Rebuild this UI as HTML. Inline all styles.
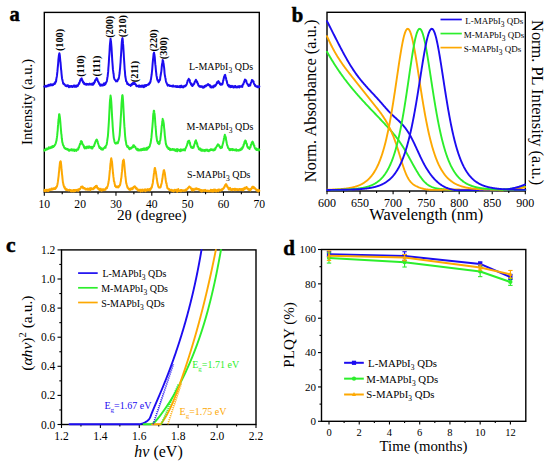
<!DOCTYPE html>
<html><head><meta charset="utf-8"><style>
html,body{margin:0;padding:0;background:#fff;width:550px;height:461px;overflow:hidden}
svg{display:block}
text{font-family:"Liberation Serif", serif}
</style></head><body>
<svg width="550" height="461" viewBox="0 0 550 461">
<rect width="550" height="461" fill="#fff"/>
<rect x="44.3" y="12.4" width="215" height="179.6" fill="none" stroke="#000" stroke-width="1.4"/>
<line x1="44.3" y1="192" x2="44.3" y2="195.8" stroke="#000" stroke-width="1.1"/>
<text x="44.3" y="207.6" font-size="11.6" text-anchor="middle" font-weight="normal" font-style="normal" fill="#000">10</text>
<line x1="62.22" y1="192" x2="62.22" y2="194.2" stroke="#000" stroke-width="1.1"/>
<line x1="80.13" y1="192" x2="80.13" y2="195.8" stroke="#000" stroke-width="1.1"/>
<text x="80.13" y="207.6" font-size="11.6" text-anchor="middle" font-weight="normal" font-style="normal" fill="#000">20</text>
<line x1="98.05" y1="192" x2="98.05" y2="194.2" stroke="#000" stroke-width="1.1"/>
<line x1="115.97" y1="192" x2="115.97" y2="195.8" stroke="#000" stroke-width="1.1"/>
<text x="115.97" y="207.6" font-size="11.6" text-anchor="middle" font-weight="normal" font-style="normal" fill="#000">30</text>
<line x1="133.88" y1="192" x2="133.88" y2="194.2" stroke="#000" stroke-width="1.1"/>
<line x1="151.8" y1="192" x2="151.8" y2="195.8" stroke="#000" stroke-width="1.1"/>
<text x="151.8" y="207.6" font-size="11.6" text-anchor="middle" font-weight="normal" font-style="normal" fill="#000">40</text>
<line x1="169.72" y1="192" x2="169.72" y2="194.2" stroke="#000" stroke-width="1.1"/>
<line x1="187.63" y1="192" x2="187.63" y2="195.8" stroke="#000" stroke-width="1.1"/>
<text x="187.63" y="207.6" font-size="11.6" text-anchor="middle" font-weight="normal" font-style="normal" fill="#000">50</text>
<line x1="205.55" y1="192" x2="205.55" y2="194.2" stroke="#000" stroke-width="1.1"/>
<line x1="223.47" y1="192" x2="223.47" y2="195.8" stroke="#000" stroke-width="1.1"/>
<text x="223.47" y="207.6" font-size="11.6" text-anchor="middle" font-weight="normal" font-style="normal" fill="#000">60</text>
<line x1="241.38" y1="192" x2="241.38" y2="194.2" stroke="#000" stroke-width="1.1"/>
<line x1="259.3" y1="192" x2="259.3" y2="195.8" stroke="#000" stroke-width="1.1"/>
<text x="259.3" y="207.6" font-size="11.6" text-anchor="middle" font-weight="normal" font-style="normal" fill="#000">70</text>
<text x="151.8" y="220.2" font-size="15.3" text-anchor="middle" font-weight="normal" font-style="normal" fill="#000">2θ (degree)</text>
<text x="32.2" y="101.9" font-size="14.7" text-anchor="middle" font-weight="normal" font-style="normal" fill="#000" transform="rotate(-90 32.2 101.9)">Intensity (a.u.)</text>
<text x="9.5" y="20.8" font-size="20.5" text-anchor="start" font-weight="bold" font-style="normal" fill="#000" stroke="#000" stroke-width="0.5">a</text>
<path d="M44.3 86.47 L44.54 86.57 L44.78 86.28 L45.02 85.97 L45.26 86.13 L45.5 85.86 L45.73 86.29 L45.97 86.83 L46.21 85.97 L46.45 85.87 L46.69 86.33 L46.93 86.23 L47.17 86.07 L47.41 85.57 L47.65 85.93 L47.89 86.21 L48.13 85.25 L48.37 85.6 L48.6 84.9 L48.84 85.13 L49.08 84.83 L49.32 85.51 L49.56 84.99 L49.8 85.63 L50.04 85.53 L50.28 85.32 L50.52 84.21 L50.76 85.05 L51 85.21 L51.24 85.22 L51.47 84.41 L51.71 84.82 L51.95 84.52 L52.19 84.52 L52.43 85.29 L52.67 84.36 L52.91 84.62 L53.15 84.93 L53.39 84.16 L53.63 84.26 L53.87 84.22 L54.11 84.05 L54.34 83.29 L54.58 83.66 L54.82 83.97 L55.06 82.34 L55.3 83.01 L55.54 82.17 L55.78 81.19 L56.02 81.57 L56.26 80.01 L56.5 77.89 L56.74 76.98 L56.98 75.44 L57.21 73.06 L57.45 71.13 L57.69 68.24 L57.93 65.84 L58.17 63.37 L58.41 59.67 L58.65 57.58 L58.89 55.27 L59.13 54.25 L59.37 53.27 L59.61 54.11 L59.85 55.73 L60.08 58.35 L60.32 61.04 L60.56 62.74 L60.8 65.83 L61.04 69.23 L61.28 70.61 L61.52 73.61 L61.76 75.82 L62 78.19 L62.24 79.42 L62.48 80.19 L62.71 81.18 L62.95 82.05 L63.19 83.5 L63.43 83.14 L63.67 83.62 L63.91 84.25 L64.15 84.32 L64.39 84.51 L64.63 84.3 L64.87 84.96 L65.11 84.92 L65.35 85.77 L65.58 85.66 L65.82 85.46 L66.06 85.87 L66.3 85.5 L66.54 86.21 L66.78 85.81 L67.02 86.15 L67.26 85.37 L67.5 86.16 L67.74 85.3 L67.98 85.2 L68.22 86.03 L68.45 85.8 L68.69 86.32 L68.93 87.3 L69.17 85.95 L69.41 86.07 L69.65 86.48 L69.89 86.63 L70.13 86.36 L70.37 86.37 L70.61 86.8 L70.85 86.73 L71.09 86.05 L71.32 86.49 L71.56 86.55 L71.8 86.07 L72.04 86.67 L72.28 86.17 L72.52 87 L72.76 86.65 L73 86.6 L73.24 86.29 L73.48 86.49 L73.72 85.64 L73.96 86.01 L74.19 86.67 L74.43 85.53 L74.67 86.85 L74.91 85.66 L75.15 86.75 L75.39 86 L75.63 86.69 L75.87 86.35 L76.11 85.55 L76.35 86.74 L76.59 86.76 L76.83 85.99 L77.06 85.79 L77.3 85.71 L77.54 85.19 L77.78 85.93 L78.02 84.96 L78.26 84.89 L78.5 84.22 L78.74 83.89 L78.98 83.13 L79.22 83.75 L79.46 82.52 L79.69 82.39 L79.93 81.3 L80.17 80.32 L80.41 79.86 L80.65 79.21 L80.89 79.06 L81.13 78.66 L81.37 78.68 L81.61 78.37 L81.85 78.98 L82.09 80.56 L82.33 80.05 L82.56 80.44 L82.8 81.61 L83.04 82.61 L83.28 81.79 L83.52 82.76 L83.76 82.91 L84 82.69 L84.24 84.04 L84.48 83.87 L84.72 84.05 L84.96 83.77 L85.2 84.38 L85.43 83.98 L85.67 84.18 L85.91 83.76 L86.15 83.71 L86.39 84.86 L86.63 84.02 L86.87 84.37 L87.11 84.21 L87.35 84.01 L87.59 83.97 L87.83 84.47 L88.07 84.04 L88.3 84.1 L88.54 84.16 L88.78 84.68 L89.02 84.45 L89.26 84.31 L89.5 83.88 L89.74 83.51 L89.98 84.56 L90.22 84.57 L90.46 84.07 L90.7 84.38 L90.94 84.49 L91.17 84.52 L91.41 84.56 L91.65 83.93 L91.89 84.81 L92.13 83.55 L92.37 84.46 L92.61 84.25 L92.85 84.36 L93.09 84.71 L93.33 84.4 L93.57 83.05 L93.81 82.59 L94.04 83.44 L94.28 82.29 L94.52 82.35 L94.76 82.29 L95 80.68 L95.24 79.95 L95.48 80.48 L95.72 79.86 L95.96 79.27 L96.2 79.04 L96.44 78.44 L96.67 78.13 L96.91 78.93 L97.15 78.92 L97.39 79.11 L97.63 80.65 L97.87 81 L98.11 81.82 L98.35 81.78 L98.59 82.46 L98.83 82.79 L99.07 83.27 L99.31 84.11 L99.54 83.97 L99.78 84.73 L100.02 84.91 L100.26 85.82 L100.5 84.4 L100.74 85.51 L100.98 85.13 L101.22 85.2 L101.46 84.57 L101.7 85.02 L101.94 85.55 L102.18 85.16 L102.41 85.2 L102.65 84.99 L102.89 85.59 L103.13 85 L103.37 83.94 L103.61 84.53 L103.85 83.86 L104.09 83.17 L104.33 84.26 L104.57 84.95 L104.81 84.21 L105.05 83.46 L105.28 83.34 L105.52 84.01 L105.76 83.26 L106 82.82 L106.24 82.31 L106.48 81.77 L106.72 81.4 L106.96 80.38 L107.2 79.11 L107.44 77.15 L107.68 76.15 L107.92 73.55 L108.15 71.91 L108.39 68 L108.63 65.28 L108.87 61.75 L109.11 57.29 L109.35 54.64 L109.59 50.53 L109.83 45.95 L110.07 43.38 L110.31 41.01 L110.55 38.66 L110.78 40.29 L111.02 41.77 L111.26 44.5 L111.5 47.35 L111.74 51.49 L111.98 55.42 L112.22 59.84 L112.46 63.02 L112.7 66.1 L112.94 69.64 L113.18 71.16 L113.42 73.3 L113.65 74.35 L113.89 77.25 L114.13 78.06 L114.37 78.89 L114.61 79.43 L114.85 79.68 L115.09 80.1 L115.33 80.17 L115.57 80.39 L115.81 80.65 L116.05 81.4 L116.29 81.02 L116.52 80.76 L116.76 80.51 L117 80.43 L117.24 81.34 L117.48 80.69 L117.72 80.28 L117.96 79.8 L118.2 79.06 L118.44 78.99 L118.68 78.72 L118.92 77.23 L119.16 76.14 L119.39 74.67 L119.63 73 L119.87 70.03 L120.11 68.03 L120.35 64.73 L120.59 62.1 L120.83 57.61 L121.07 54.25 L121.31 50.65 L121.55 45.96 L121.79 42.43 L122.03 40.19 L122.26 38.64 L122.5 38.07 L122.74 39.99 L122.98 43.15 L123.22 45.5 L123.46 49.44 L123.7 53.22 L123.94 57.98 L124.18 61.24 L124.42 64.96 L124.66 69.31 L124.9 71.2 L125.13 74.55 L125.37 76.81 L125.61 77.94 L125.85 79.46 L126.09 81.21 L126.33 81.14 L126.57 81.67 L126.81 81.9 L127.05 82.99 L127.29 84.02 L127.53 84.1 L127.76 83.51 L128 83.77 L128.24 84.12 L128.48 84.65 L128.72 84.57 L128.96 84.89 L129.2 85.03 L129.44 84.86 L129.68 85.05 L129.92 85.22 L130.16 85.12 L130.4 85.4 L130.63 86 L130.87 85.38 L131.11 85.07 L131.35 84.18 L131.59 84.98 L131.83 83.76 L132.07 83.8 L132.31 84.59 L132.55 84.27 L132.79 83.63 L133.03 82.68 L133.27 83.07 L133.5 82.77 L133.74 83.29 L133.98 84.04 L134.22 83.23 L134.46 82.98 L134.7 83.06 L134.94 83.86 L135.18 84.11 L135.42 83.98 L135.66 84.84 L135.9 84.54 L136.14 85.79 L136.37 85.98 L136.61 86.17 L136.85 85.62 L137.09 86.18 L137.33 85.99 L137.57 85.95 L137.81 86.04 L138.05 85.65 L138.29 85.62 L138.53 86.66 L138.77 86.24 L139.01 86.43 L139.24 86.8 L139.48 85.57 L139.72 86.01 L139.96 86.44 L140.2 86.53 L140.44 86.18 L140.68 86.81 L140.92 86.43 L141.16 85.78 L141.4 85.9 L141.64 86.67 L141.88 86.5 L142.11 85.41 L142.35 86.85 L142.59 86.49 L142.83 86.81 L143.07 86 L143.31 86.01 L143.55 85.61 L143.79 87.22 L144.03 85.96 L144.27 86.72 L144.51 85.67 L144.74 85.99 L144.98 85.12 L145.22 85.64 L145.46 86.2 L145.7 85.14 L145.94 86.12 L146.18 85.72 L146.42 85.03 L146.66 85.19 L146.9 85.13 L147.14 85.22 L147.38 84.9 L147.61 84.66 L147.85 84.78 L148.09 84.32 L148.33 84.06 L148.57 84.45 L148.81 84.68 L149.05 83.38 L149.29 83.8 L149.53 83.19 L149.77 82.66 L150.01 83 L150.25 81.78 L150.48 81.94 L150.72 79.99 L150.96 79.38 L151.2 77.72 L151.44 75.84 L151.68 74.52 L151.92 71.98 L152.16 69.86 L152.4 66.88 L152.64 63.59 L152.88 61.18 L153.12 58.55 L153.35 56.6 L153.59 53.99 L153.83 53.42 L154.07 52.63 L154.31 54.6 L154.55 55.52 L154.79 57.48 L155.03 60.89 L155.27 64.17 L155.51 65.73 L155.75 68.51 L155.99 71.04 L156.22 72.97 L156.46 75.47 L156.7 76.47 L156.94 77.78 L157.18 79.38 L157.42 79.57 L157.66 80.7 L157.9 80.51 L158.14 80.69 L158.38 80.57 L158.62 82.28 L158.86 81.23 L159.09 81.3 L159.33 80.86 L159.57 80.48 L159.81 79.8 L160.05 79.81 L160.29 77.46 L160.53 75.98 L160.77 74.76 L161.01 72.93 L161.25 72 L161.49 70.02 L161.72 67.15 L161.96 64.92 L162.2 63.54 L162.44 62.84 L162.68 60 L162.92 61.24 L163.16 60.98 L163.4 63.06 L163.64 63.75 L163.88 66.1 L164.12 67.72 L164.36 70.15 L164.59 73.34 L164.83 75.07 L165.07 76.31 L165.31 77.68 L165.55 78.58 L165.79 80.41 L166.03 81.54 L166.27 82.3 L166.51 82.94 L166.75 82.99 L166.99 83.88 L167.23 84.23 L167.46 85.1 L167.7 85.59 L167.94 84.88 L168.18 84.76 L168.42 85.22 L168.66 85.1 L168.9 85.15 L169.14 85.55 L169.38 85.2 L169.62 86.03 L169.86 85.79 L170.1 86.02 L170.33 85.89 L170.57 85.71 L170.81 85.66 L171.05 86.04 L171.29 85.95 L171.53 86.35 L171.77 86.28 L172.01 85.71 L172.25 86.39 L172.49 85.8 L172.73 86.16 L172.97 86.33 L173.2 85.56 L173.44 86.56 L173.68 86.62 L173.92 86.5 L174.16 86.41 L174.4 86.45 L174.64 86.2 L174.88 86.54 L175.12 86.43 L175.36 86.73 L175.6 86.16 L175.84 86.83 L176.07 86.8 L176.31 86.68 L176.55 86.56 L176.79 87.01 L177.03 86.02 L177.27 86.99 L177.51 86.9 L177.75 86.92 L177.99 86.97 L178.23 86.51 L178.47 86.69 L178.7 87.1 L178.94 87.01 L179.18 86.91 L179.42 86.13 L179.66 87.06 L179.9 87.34 L180.14 87.26 L180.38 86.91 L180.62 86.1 L180.86 87.22 L181.1 86.72 L181.34 85.64 L181.57 86.94 L181.81 86.09 L182.05 86.16 L182.29 86.44 L182.53 87.28 L182.77 86.52 L183.01 86.79 L183.25 87.42 L183.49 87.32 L183.73 86.52 L183.97 86.41 L184.21 85.89 L184.44 86.06 L184.68 86.47 L184.92 86.34 L185.16 86.05 L185.4 86.26 L185.64 85.22 L185.88 85.25 L186.12 85.25 L186.36 84.76 L186.6 84.5 L186.84 83.65 L187.08 82.72 L187.31 82.38 L187.55 81.11 L187.79 80.18 L188.03 80.6 L188.27 79.85 L188.51 79.72 L188.75 78.74 L188.99 79.47 L189.23 79.7 L189.47 80.07 L189.71 80.02 L189.95 81.51 L190.18 82.7 L190.42 83.06 L190.66 83.17 L190.9 83.92 L191.14 84.69 L191.38 83.44 L191.62 84.89 L191.86 85.38 L192.1 85.55 L192.34 86.05 L192.58 85.76 L192.82 85.28 L193.05 85.1 L193.29 85.07 L193.53 84.15 L193.77 83.99 L194.01 83.96 L194.25 83.92 L194.49 82.42 L194.73 81.9 L194.97 81.46 L195.21 81.48 L195.45 80.47 L195.68 80.91 L195.92 79.77 L196.16 80.28 L196.4 80.6 L196.64 81.51 L196.88 82.18 L197.12 81.62 L197.36 82.48 L197.6 83.62 L197.84 83.7 L198.08 83.79 L198.32 85.36 L198.55 85.47 L198.79 85.77 L199.03 85.58 L199.27 86.46 L199.51 86.05 L199.75 86.78 L199.99 85.97 L200.23 86.08 L200.47 86.62 L200.71 86.26 L200.95 86.92 L201.19 86.77 L201.42 86.26 L201.66 86.73 L201.9 86.55 L202.14 87.14 L202.38 86.45 L202.62 86.54 L202.86 87.29 L203.1 87.75 L203.34 87.64 L203.58 86.76 L203.82 86.81 L204.06 87.38 L204.29 86.6 L204.53 86.17 L204.77 86.6 L205.01 86.68 L205.25 86.01 L205.49 85.52 L205.73 85.48 L205.97 86.27 L206.21 85.45 L206.45 85.52 L206.69 85.47 L206.93 85.44 L207.16 84.8 L207.4 84.98 L207.64 84.21 L207.88 84.36 L208.12 84.04 L208.36 85.07 L208.6 84.66 L208.84 84.51 L209.08 84.88 L209.32 85.15 L209.56 85.78 L209.79 84.95 L210.03 85.39 L210.27 85.85 L210.51 87.3 L210.75 86.71 L210.99 86.33 L211.23 86.78 L211.47 87.45 L211.71 86.46 L211.95 86.43 L212.19 87.16 L212.43 86.85 L212.66 86.93 L212.9 86.39 L213.14 87.47 L213.38 87.34 L213.62 86.79 L213.86 86.8 L214.1 85.51 L214.34 86.63 L214.58 86.15 L214.82 86.3 L215.06 86.24 L215.3 85.58 L215.53 84.73 L215.77 85.36 L216.01 84.53 L216.25 84.33 L216.49 83.8 L216.73 83.47 L216.97 82.14 L217.21 83.29 L217.45 82.46 L217.69 82.54 L217.93 82.74 L218.17 81.81 L218.4 81.08 L218.64 81.71 L218.88 81.88 L219.12 82.57 L219.36 83.22 L219.6 82.67 L219.84 84.08 L220.08 83.56 L220.32 84.63 L220.56 84.64 L220.8 84.66 L221.04 84.81 L221.27 84.55 L221.51 84.38 L221.75 83.66 L221.99 84.06 L222.23 84.45 L222.47 83.94 L222.71 82.96 L222.95 81.89 L223.19 80.37 L223.43 80.35 L223.67 78.66 L223.91 77.64 L224.14 76.61 L224.38 76 L224.62 75.23 L224.86 75.17 L225.1 74.85 L225.34 75.63 L225.58 77.56 L225.82 77.42 L226.06 78.36 L226.3 79.75 L226.54 80.86 L226.77 80.99 L227.01 82.27 L227.25 83.55 L227.49 83.92 L227.73 84.42 L227.97 85.53 L228.21 84.91 L228.45 85.56 L228.69 85.53 L228.93 86.63 L229.17 85.24 L229.41 85.93 L229.64 86.1 L229.88 86.71 L230.12 86.75 L230.36 87.17 L230.6 85.88 L230.84 86.96 L231.08 86.53 L231.32 86.39 L231.56 86.96 L231.8 86.33 L232.04 85.83 L232.28 86.62 L232.51 86.13 L232.75 86.53 L232.99 87.01 L233.23 86.99 L233.47 87.58 L233.71 86.78 L233.95 86.19 L234.19 86.55 L234.43 86.48 L234.67 86.36 L234.91 87.1 L235.15 86.62 L235.38 86.03 L235.62 87.23 L235.86 86.87 L236.1 87.08 L236.34 86.97 L236.58 87.2 L236.82 86.93 L237.06 87.47 L237.3 87.1 L237.54 87.08 L237.78 87.08 L238.02 86.23 L238.25 86.8 L238.49 86.75 L238.73 86.94 L238.97 86.22 L239.21 87.55 L239.45 86.85 L239.69 86.23 L239.93 85.98 L240.17 86.59 L240.41 86.64 L240.65 86.3 L240.89 86.61 L241.12 86.2 L241.36 86.65 L241.6 85.95 L241.84 86.11 L242.08 86.38 L242.32 86.86 L242.56 84.97 L242.8 84.87 L243.04 84.3 L243.28 84.57 L243.52 83.18 L243.75 82.92 L243.99 82.53 L244.23 81.49 L244.47 80.93 L244.71 80.63 L244.95 79.51 L245.19 79.59 L245.43 80.03 L245.67 80.46 L245.91 80.65 L246.15 80.41 L246.39 81.54 L246.62 82.69 L246.86 83.15 L247.1 83.4 L247.34 83.53 L247.58 84.63 L247.82 84.45 L248.06 84.47 L248.3 84.85 L248.54 86 L248.78 85.52 L249.02 85.95 L249.26 85.15 L249.49 85.65 L249.73 84.75 L249.97 84.67 L250.21 85.51 L250.45 84.32 L250.69 83.26 L250.93 82.92 L251.17 82.53 L251.41 82.35 L251.65 81.03 L251.89 79.99 L252.13 80.29 L252.36 80.23 L252.6 80.28 L252.84 81.03 L253.08 80.95 L253.32 81.68 L253.56 81.4 L253.8 82.89 L254.04 84.05 L254.28 84.03 L254.52 84.32 L254.76 84.75 L255 85.9 L255.23 85.02 L255.47 85.69 L255.71 86.18 L255.95 86.51 L256.19 86.13 L256.43 86.59 L256.67 86.43 L256.91 86.69 L257.15 86.64 L257.39 86.24 L257.63 86.79 L257.87 87.23 L258.1 86.43 L258.34 86.79 L258.58 87.22 L258.82 86.46 L259.06 87.04 L259.3 86.5" fill="none" stroke="#1c0cf0" stroke-width="2.0" stroke-linejoin="round" stroke-linecap="round"/>
<path d="M44.3 150.23 L44.54 150.69 L44.78 150.49 L45.02 149.41 L45.26 149.77 L45.5 149.42 L45.73 149.34 L45.97 149.91 L46.21 148.55 L46.45 149.54 L46.69 148.96 L46.93 149.54 L47.17 148.91 L47.41 148.44 L47.65 148.78 L47.89 148.9 L48.13 148.5 L48.37 148.62 L48.6 148.08 L48.84 147.27 L49.08 148.55 L49.32 148.37 L49.56 148.03 L49.8 147.91 L50.04 148.26 L50.28 147.49 L50.52 147.29 L50.76 147.43 L51 147.96 L51.24 146.71 L51.47 147.77 L51.71 146.85 L51.95 146.55 L52.19 147.51 L52.43 146.79 L52.67 146.14 L52.91 146.45 L53.15 146.92 L53.39 146.91 L53.63 146.04 L53.87 146.26 L54.11 146.23 L54.34 145.42 L54.58 145.64 L54.82 145.19 L55.06 144.62 L55.3 144.22 L55.54 143.94 L55.78 143.26 L56.02 142.15 L56.26 141.18 L56.5 140.6 L56.74 138.65 L56.98 137.13 L57.21 135.15 L57.45 132.48 L57.69 130.59 L57.93 126.37 L58.17 124.19 L58.41 120.84 L58.65 119.25 L58.89 117.11 L59.13 114.15 L59.37 114.21 L59.61 115.57 L59.85 117.16 L60.08 119.39 L60.32 121.75 L60.56 124.95 L60.8 128.04 L61.04 130.62 L61.28 133.83 L61.52 134.8 L61.76 138.27 L62 139.39 L62.24 141.87 L62.48 142.65 L62.71 143.44 L62.95 144.89 L63.19 145.03 L63.43 145.61 L63.67 145.79 L63.91 146.87 L64.15 147.43 L64.39 147.95 L64.63 147.66 L64.87 148.4 L65.11 148.13 L65.35 148.25 L65.58 148.7 L65.82 149.06 L66.06 148.56 L66.3 148.73 L66.54 148.88 L66.78 149.1 L67.02 148.76 L67.26 149.72 L67.5 149.16 L67.74 149.63 L67.98 149.13 L68.22 149.74 L68.45 149.82 L68.69 149.52 L68.93 150.68 L69.17 150 L69.41 150.69 L69.65 150.37 L69.89 149.69 L70.13 149.86 L70.37 150.27 L70.61 150.14 L70.85 150.17 L71.09 150.05 L71.32 149.39 L71.56 150.13 L71.8 149.26 L72.04 150.45 L72.28 149.97 L72.52 149.99 L72.76 150.23 L73 150.46 L73.24 149.7 L73.48 149.57 L73.72 149.88 L73.96 149.44 L74.19 149.92 L74.43 151.06 L74.67 149.86 L74.91 150.61 L75.15 149.68 L75.39 150.41 L75.63 150.1 L75.87 150.18 L76.11 150.41 L76.35 150.89 L76.59 150.11 L76.83 149.99 L77.06 149.39 L77.3 149.95 L77.54 149.41 L77.78 149.68 L78.02 149.01 L78.26 149.49 L78.5 147.42 L78.74 147.71 L78.98 147.69 L79.22 146.52 L79.46 145.62 L79.69 145.11 L79.93 143.82 L80.17 143.71 L80.41 144 L80.65 142.77 L80.89 141.27 L81.13 141.11 L81.37 141.29 L81.61 142.14 L81.85 141.73 L82.09 142.35 L82.33 143.69 L82.56 144.35 L82.8 144.43 L83.04 144.7 L83.28 145.05 L83.52 145.9 L83.76 145.61 L84 147.27 L84.24 146.9 L84.48 147.59 L84.72 148.35 L84.96 148.12 L85.2 147.13 L85.43 148.07 L85.67 148.2 L85.91 147.33 L86.15 147.22 L86.39 147.57 L86.63 146.87 L86.87 148.21 L87.11 146.43 L87.35 146.98 L87.59 147.33 L87.83 147.31 L88.07 147.46 L88.3 147.49 L88.54 147.25 L88.78 147.84 L89.02 146.35 L89.26 147.31 L89.5 146.98 L89.74 147.36 L89.98 147.4 L90.22 146.9 L90.46 147.03 L90.7 147.69 L90.94 147.5 L91.17 147.04 L91.41 148.28 L91.65 148.4 L91.89 146.7 L92.13 147.47 L92.37 148.43 L92.61 147.6 L92.85 147.25 L93.09 146.93 L93.33 146.59 L93.57 146.5 L93.81 146.03 L94.04 146.21 L94.28 145.21 L94.52 144.62 L94.76 143.62 L95 143.41 L95.24 142.25 L95.48 141.77 L95.72 141.54 L95.96 140.55 L96.2 140.08 L96.44 139.71 L96.67 139.55 L96.91 139.73 L97.15 140.18 L97.39 141.38 L97.63 141.39 L97.87 143.37 L98.11 143.68 L98.35 144.18 L98.59 145.08 L98.83 145.7 L99.07 146.69 L99.31 146.81 L99.54 148.08 L99.78 147.56 L100.02 147.17 L100.26 148.07 L100.5 147.66 L100.74 148.66 L100.98 149.23 L101.22 149.1 L101.46 148.23 L101.7 148.49 L101.94 149.62 L102.18 148.93 L102.41 148.75 L102.65 149.17 L102.89 149.73 L103.13 149.12 L103.37 148.51 L103.61 148.5 L103.85 148.49 L104.09 147.8 L104.33 147.44 L104.57 147.76 L104.81 147.11 L105.05 147.28 L105.28 147.08 L105.52 147.78 L105.76 145.97 L106 145.86 L106.24 145.29 L106.48 144.9 L106.72 144.34 L106.96 142.61 L107.2 141.16 L107.44 139.2 L107.68 137.56 L107.92 135.86 L108.15 132.83 L108.39 129.1 L108.63 125.68 L108.87 121.74 L109.11 117.52 L109.35 112.42 L109.59 108 L109.83 103.03 L110.07 99.75 L110.31 98.47 L110.55 95.61 L110.78 96.83 L111.02 98.93 L111.26 101.71 L111.5 105.38 L111.74 110.03 L111.98 114.51 L112.22 118.82 L112.46 122.09 L112.7 126.57 L112.94 129.52 L113.18 132.47 L113.42 135.18 L113.65 137.31 L113.89 138.99 L114.13 139.6 L114.37 141.21 L114.61 142.07 L114.85 142.62 L115.09 143.16 L115.33 142.79 L115.57 143.01 L115.81 143.62 L116.05 142.75 L116.29 143.52 L116.52 143.21 L116.76 143.26 L117 142.58 L117.24 142.85 L117.48 143.07 L117.72 143.23 L117.96 142.95 L118.2 142.01 L118.44 141.36 L118.68 140.28 L118.92 139.8 L119.16 138.18 L119.39 136.89 L119.63 135.35 L119.87 132.04 L120.11 128.41 L120.35 125.27 L120.59 121.12 L120.83 116.98 L121.07 113.6 L121.31 108.54 L121.55 103.37 L121.79 100.48 L122.03 97.81 L122.26 95.41 L122.5 95.14 L122.74 96.73 L122.98 99.82 L123.22 103.8 L123.46 108.5 L123.7 113.25 L123.94 117.95 L124.18 122.54 L124.42 126.38 L124.66 129.13 L124.9 133.02 L125.13 136.01 L125.37 138.04 L125.61 140.56 L125.85 141.57 L126.09 142.58 L126.33 144.67 L126.57 145.13 L126.81 145.58 L127.05 146.43 L127.29 146.92 L127.53 146.95 L127.76 145.99 L128 147.04 L128.24 147.36 L128.48 147.31 L128.72 148.01 L128.96 148.6 L129.2 147.96 L129.44 147.77 L129.68 149.27 L129.92 148.21 L130.16 147.88 L130.4 148.54 L130.63 148.6 L130.87 148.02 L131.11 148.58 L131.35 147.85 L131.59 147.46 L131.83 147.71 L132.07 147.7 L132.31 146.75 L132.55 146.84 L132.79 146.29 L133.03 147.27 L133.27 145.38 L133.5 146.11 L133.74 145.35 L133.98 145.33 L134.22 145.86 L134.46 146.2 L134.7 146.71 L134.94 146.68 L135.18 146.67 L135.42 147.1 L135.66 147.96 L135.9 148.35 L136.14 149.04 L136.37 148.87 L136.61 149.4 L136.85 149.8 L137.09 149.35 L137.33 148.74 L137.57 148.98 L137.81 148.94 L138.05 150.37 L138.29 149.32 L138.53 150.29 L138.77 150.02 L139.01 150.55 L139.24 150.24 L139.48 149.75 L139.72 149.71 L139.96 149.84 L140.2 149.88 L140.44 149.56 L140.68 149.77 L140.92 150.5 L141.16 149 L141.4 149.86 L141.64 149.32 L141.88 149.79 L142.11 150.06 L142.35 149.63 L142.59 149.97 L142.83 148.88 L143.07 150.06 L143.31 149.25 L143.55 149.76 L143.79 149.52 L144.03 148.23 L144.27 149 L144.51 149.39 L144.74 149.93 L144.98 149.3 L145.22 149.22 L145.46 148.4 L145.7 149.61 L145.94 149.7 L146.18 148.81 L146.42 148.61 L146.66 147.88 L146.9 148.9 L147.14 149.61 L147.38 148.6 L147.61 148.71 L147.85 148.24 L148.09 147.39 L148.33 148.26 L148.57 146.91 L148.81 147.14 L149.05 147.09 L149.29 147.05 L149.53 146.46 L149.77 145.99 L150.01 144.9 L150.25 143.95 L150.48 143.67 L150.72 142.23 L150.96 140.62 L151.2 139.01 L151.44 137.42 L151.68 134.54 L151.92 132.17 L152.16 129.14 L152.4 126.79 L152.64 123.57 L152.88 120.94 L153.12 116.18 L153.35 113.77 L153.59 112.4 L153.83 110.76 L154.07 110.67 L154.31 112.64 L154.55 113.71 L154.79 116.02 L155.03 119.03 L155.27 123.02 L155.51 126.22 L155.75 128.5 L155.99 131.46 L156.22 134.62 L156.46 136.77 L156.7 138.02 L156.94 140.08 L157.18 141.24 L157.42 141.11 L157.66 142.47 L157.9 143.31 L158.14 143.2 L158.38 142.68 L158.62 143.57 L158.86 143.94 L159.09 144.08 L159.33 142 L159.57 143.59 L159.81 141.14 L160.05 141.08 L160.29 139.97 L160.53 138.35 L160.77 136.2 L161.01 133.58 L161.25 132.12 L161.49 129.09 L161.72 125.77 L161.96 125.72 L162.2 122.54 L162.44 121.24 L162.68 118.87 L162.92 119.62 L163.16 120.23 L163.4 121.58 L163.64 122.86 L163.88 124.74 L164.12 127.82 L164.36 129.57 L164.59 132.36 L164.83 135.57 L165.07 137.25 L165.31 139.53 L165.55 141.21 L165.79 143.52 L166.03 144.4 L166.27 144.75 L166.51 146.09 L166.75 145.82 L166.99 146.53 L167.23 147.5 L167.46 146.86 L167.7 147.57 L167.94 147.34 L168.18 148.18 L168.42 149.03 L168.66 148.11 L168.9 148.69 L169.14 148.31 L169.38 148.31 L169.62 148.37 L169.86 149.68 L170.1 150.17 L170.33 149.41 L170.57 148.94 L170.81 149.65 L171.05 149.25 L171.29 149.82 L171.53 149.65 L171.77 149.7 L172.01 149.9 L172.25 149.41 L172.49 149.53 L172.73 148.98 L172.97 149.59 L173.2 149.19 L173.44 149.8 L173.68 149.46 L173.92 149.97 L174.16 150.16 L174.4 149.34 L174.64 149.63 L174.88 149.6 L175.12 150.38 L175.36 150.83 L175.6 150.46 L175.84 149.94 L176.07 150.77 L176.31 149.44 L176.55 150.81 L176.79 149.85 L177.03 148.91 L177.27 151.36 L177.51 150.88 L177.75 149.72 L177.99 150.26 L178.23 150.09 L178.47 150.24 L178.7 149.53 L178.94 149.89 L179.18 150.41 L179.42 150.3 L179.66 150.73 L179.9 150.22 L180.14 151.24 L180.38 149.86 L180.62 150.29 L180.86 149.3 L181.1 149.59 L181.34 150.73 L181.57 149.7 L181.81 150.34 L182.05 150.06 L182.29 149.59 L182.53 149.88 L182.77 149.78 L183.01 149.76 L183.25 150.27 L183.49 150.18 L183.73 149.57 L183.97 149.36 L184.21 149.81 L184.44 149.53 L184.68 149.91 L184.92 150.48 L185.16 149.46 L185.4 148.8 L185.64 148.42 L185.88 147.71 L186.12 147.22 L186.36 146.61 L186.6 146.23 L186.84 145.48 L187.08 145.2 L187.31 143.83 L187.55 143.03 L187.79 141.72 L188.03 142.23 L188.27 141.1 L188.51 141.28 L188.75 140.72 L188.99 141.21 L189.23 140.88 L189.47 141.96 L189.71 143.63 L189.95 142.7 L190.18 144.62 L190.42 145.65 L190.66 145.81 L190.9 146.62 L191.14 147.4 L191.38 146.97 L191.62 147.81 L191.86 147.47 L192.1 147.7 L192.34 147.77 L192.58 147.94 L192.82 147.92 L193.05 147.82 L193.29 146.61 L193.53 147.73 L193.77 146.81 L194.01 145.99 L194.25 144.78 L194.49 144.15 L194.73 143.66 L194.97 142.84 L195.21 141.19 L195.45 141.77 L195.68 142.45 L195.92 140.19 L196.16 141.71 L196.4 141.88 L196.64 142.3 L196.88 143.74 L197.12 143.38 L197.36 144.82 L197.6 146.21 L197.84 146.17 L198.08 146.73 L198.32 147.55 L198.55 147.79 L198.79 149.12 L199.03 148.33 L199.27 149.43 L199.51 148.67 L199.75 149.74 L199.99 149.52 L200.23 148.49 L200.47 149.77 L200.71 149.35 L200.95 149.7 L201.19 150.67 L201.42 149.48 L201.66 149.55 L201.9 150.73 L202.14 150.15 L202.38 150.83 L202.62 150.29 L202.86 149.75 L203.1 150.15 L203.34 150.76 L203.58 150.65 L203.82 150.22 L204.06 150.26 L204.29 150.19 L204.53 149.99 L204.77 151.15 L205.01 150.27 L205.25 149.75 L205.49 150.06 L205.73 150.62 L205.97 150.59 L206.21 150.23 L206.45 149.99 L206.69 150.31 L206.93 149.52 L207.16 149.7 L207.4 150.67 L207.64 150.08 L207.88 150.47 L208.12 150.86 L208.36 150.59 L208.6 150.3 L208.84 151.27 L209.08 150.59 L209.32 150.11 L209.56 150.61 L209.79 150.45 L210.03 149.86 L210.27 150.28 L210.51 150.16 L210.75 149.32 L210.99 150.13 L211.23 150.07 L211.47 149.98 L211.71 149.41 L211.95 149.99 L212.19 150.11 L212.43 150.15 L212.66 149.56 L212.9 150.34 L213.14 149.45 L213.38 149.87 L213.62 150.52 L213.86 149.53 L214.1 149.53 L214.34 150.17 L214.58 149.37 L214.82 149.25 L215.06 149.3 L215.3 149.45 L215.53 147.67 L215.77 147.98 L216.01 147.52 L216.25 147.06 L216.49 146.7 L216.73 146.21 L216.97 146.24 L217.21 145.2 L217.45 145.23 L217.69 145.02 L217.93 144.28 L218.17 144.61 L218.4 145.4 L218.64 145.03 L218.88 144.93 L219.12 145.59 L219.36 145.62 L219.6 146.58 L219.84 147.23 L220.08 146.79 L220.32 147.34 L220.56 148.13 L220.8 147.5 L221.04 147.83 L221.27 147.18 L221.51 147.08 L221.75 146.9 L221.99 147.66 L222.23 145.92 L222.47 145.13 L222.71 144.24 L222.95 143.41 L223.19 142.65 L223.43 141.21 L223.67 140.76 L223.91 138.66 L224.14 138.03 L224.38 136.52 L224.62 135.98 L224.86 134.78 L225.1 135.54 L225.34 136.14 L225.58 136.99 L225.82 137.28 L226.06 139.93 L226.3 140.67 L226.54 141.94 L226.77 143.22 L227.01 144.33 L227.25 145.58 L227.49 145.66 L227.73 146.52 L227.97 147.66 L228.21 148.07 L228.45 148.22 L228.69 148.44 L228.93 148.57 L229.17 149.11 L229.41 149.82 L229.64 148.94 L229.88 150.2 L230.12 149.97 L230.36 149.46 L230.6 150.07 L230.84 149.11 L231.08 149.04 L231.32 149.27 L231.56 149.7 L231.8 149.77 L232.04 149.71 L232.28 150.01 L232.51 149.03 L232.75 150.23 L232.99 149.39 L233.23 149.74 L233.47 149.87 L233.71 149.54 L233.95 149.46 L234.19 149.63 L234.43 150.09 L234.67 150.36 L234.91 150.35 L235.15 149.66 L235.38 149.75 L235.62 149.69 L235.86 150.31 L236.1 149.19 L236.34 150.66 L236.58 149.88 L236.82 149.74 L237.06 150.24 L237.3 150.54 L237.54 150.22 L237.78 150.53 L238.02 150.11 L238.25 150.59 L238.49 150.58 L238.73 149.95 L238.97 150.62 L239.21 150.02 L239.45 149.96 L239.69 149.47 L239.93 149.72 L240.17 150.15 L240.41 149.16 L240.65 149.98 L240.89 149.76 L241.12 149.62 L241.36 148.37 L241.6 149.15 L241.84 149.29 L242.08 148.39 L242.32 148.45 L242.56 146.95 L242.8 147.86 L243.04 146.71 L243.28 146.76 L243.52 144.83 L243.75 145.19 L243.99 143.96 L244.23 143.59 L244.47 142.02 L244.71 141.46 L244.95 142.22 L245.19 140.53 L245.43 140.55 L245.67 140.99 L245.91 141.13 L246.15 142.77 L246.39 143.77 L246.62 143.47 L246.86 143.8 L247.1 145.84 L247.34 146.49 L247.58 146.95 L247.82 147.6 L248.06 147.1 L248.3 147.72 L248.54 147.38 L248.78 147.49 L249.02 148.6 L249.26 147.8 L249.49 148.98 L249.73 147.75 L249.97 147.11 L250.21 147.35 L250.45 147.31 L250.69 146.14 L250.93 144.74 L251.17 144.78 L251.41 144.55 L251.65 143.05 L251.89 142.36 L252.13 142.73 L252.36 142.11 L252.6 141.56 L252.84 142.14 L253.08 142.42 L253.32 143.49 L253.56 144.1 L253.8 145.29 L254.04 145.82 L254.28 145.48 L254.52 146.99 L254.76 147.78 L255 148.07 L255.23 148.74 L255.47 148.38 L255.71 148.49 L255.95 149.57 L256.19 148.86 L256.43 148.52 L256.67 150.07 L256.91 149.38 L257.15 149.64 L257.39 149.21 L257.63 149.3 L257.87 149.42 L258.1 149.81 L258.34 150.18 L258.58 149 L258.82 150.4 L259.06 149.55 L259.3 149.63" fill="none" stroke="#2cee2c" stroke-width="2.0" stroke-linejoin="round" stroke-linecap="round"/>
<path d="M44.3 190.76 L44.54 190.4 L44.78 189.72 L45.02 191.22 L45.26 189.98 L45.5 190.45 L45.73 190.41 L45.97 190.92 L46.21 190.06 L46.45 190.69 L46.69 189.87 L46.93 190.68 L47.17 189.8 L47.41 189.95 L47.65 190.93 L47.89 190.19 L48.13 190.06 L48.37 190.99 L48.6 190.11 L48.84 189.54 L49.08 190.2 L49.32 189.3 L49.56 190.3 L49.8 190.3 L50.04 189.45 L50.28 189.39 L50.52 189.71 L50.76 189.59 L51 189.1 L51.24 189.75 L51.47 188.53 L51.71 189.21 L51.95 189.17 L52.19 189.18 L52.43 189.39 L52.67 188.64 L52.91 189.4 L53.15 188.99 L53.39 188.72 L53.63 188.33 L53.87 188.34 L54.11 188.95 L54.34 188.27 L54.58 188.63 L54.82 188.97 L55.06 188.84 L55.3 188.93 L55.54 187.92 L55.78 187.36 L56.02 188.05 L56.26 187.41 L56.5 187.37 L56.74 186.36 L56.98 186.25 L57.21 185.29 L57.45 184.23 L57.69 182.92 L57.93 181.42 L58.17 179.63 L58.41 177.67 L58.65 175.82 L58.89 172.75 L59.13 171.26 L59.37 167.91 L59.61 166.03 L59.85 163.49 L60.08 161.92 L60.32 162.18 L60.56 161.22 L60.8 161.71 L61.04 163.6 L61.28 165.93 L61.52 169.5 L61.76 171.19 L62 174.05 L62.24 175.58 L62.48 178.39 L62.71 180.5 L62.95 182.71 L63.19 183.04 L63.43 184.85 L63.67 185.71 L63.91 185.92 L64.15 187.02 L64.39 187.43 L64.63 186.92 L64.87 188.57 L65.11 188.81 L65.35 188.59 L65.58 188.37 L65.82 189.79 L66.06 189.38 L66.3 189.83 L66.54 190.11 L66.78 189.34 L67.02 190.02 L67.26 189.62 L67.5 189.77 L67.74 189.82 L67.98 189.92 L68.22 190.47 L68.45 190.07 L68.69 189.99 L68.93 189.98 L69.17 190.29 L69.41 189.77 L69.65 189.98 L69.89 190.21 L70.13 190 L70.37 190.23 L70.61 190.03 L70.85 191.23 L71.09 190.94 L71.32 190.57 L71.56 190.36 L71.8 191.38 L72.04 190.55 L72.28 190.38 L72.52 190.56 L72.76 190.57 L73 191.08 L73.24 190.44 L73.48 191.4 L73.72 190.06 L73.96 190.78 L74.19 190.01 L74.43 191.28 L74.67 190.31 L74.91 190.43 L75.15 190.87 L75.39 191.01 L75.63 189.94 L75.87 190.28 L76.11 189.79 L76.35 190.47 L76.59 190.34 L76.83 190.21 L77.06 190.03 L77.3 190.13 L77.54 189.93 L77.78 190.46 L78.02 190.85 L78.26 189.22 L78.5 189.95 L78.74 189.7 L78.98 189.98 L79.22 189.16 L79.46 189.33 L79.69 188.71 L79.93 189.24 L80.17 188.69 L80.41 188.27 L80.65 188.19 L80.89 187.59 L81.13 186.7 L81.37 187.4 L81.61 187.06 L81.85 186.75 L82.09 187.24 L82.33 187.42 L82.56 186.53 L82.8 186.88 L83.04 188.17 L83.28 188.36 L83.52 187.63 L83.76 187.66 L84 188.11 L84.24 188.35 L84.48 188 L84.72 188.85 L84.96 188.35 L85.2 188.45 L85.43 189.45 L85.67 188.76 L85.91 189.05 L86.15 189.37 L86.39 189.45 L86.63 188.93 L86.87 189.09 L87.11 188.69 L87.35 189.83 L87.59 189.32 L87.83 188.52 L88.07 189.01 L88.3 189.32 L88.54 189.21 L88.78 189.81 L89.02 189.6 L89.26 188.74 L89.5 188.94 L89.74 188.4 L89.98 189.1 L90.22 189.06 L90.46 190.21 L90.7 189.05 L90.94 188.07 L91.17 188.71 L91.41 189.07 L91.65 188.46 L91.89 188.63 L92.13 188.85 L92.37 189.15 L92.61 188.88 L92.85 188.51 L93.09 189.19 L93.33 188.5 L93.57 188.4 L93.81 187.85 L94.04 187.93 L94.28 188.36 L94.52 187.09 L94.76 187.52 L95 187.59 L95.24 186.81 L95.48 186.82 L95.72 185.99 L95.96 186.94 L96.2 186.79 L96.44 186.46 L96.67 185.72 L96.91 186.28 L97.15 187.49 L97.39 188.16 L97.63 187.86 L97.87 188.62 L98.11 188.1 L98.35 188.57 L98.59 188.9 L98.83 189.31 L99.07 188.61 L99.31 189.87 L99.54 190.16 L99.78 189.14 L100.02 189.12 L100.26 189.94 L100.5 189.52 L100.74 188.78 L100.98 190.22 L101.22 189.93 L101.46 189.64 L101.7 190.8 L101.94 189.89 L102.18 189.47 L102.41 189.83 L102.65 189.29 L102.89 189.37 L103.13 189.85 L103.37 189.38 L103.61 189.37 L103.85 190.27 L104.09 189.84 L104.33 189.74 L104.57 189.54 L104.81 189.43 L105.05 189.77 L105.28 188.99 L105.52 189.71 L105.76 188.31 L106 188.46 L106.24 187.77 L106.48 188.02 L106.72 188.14 L106.96 188.24 L107.2 186.89 L107.44 186.7 L107.68 185.93 L107.92 184.99 L108.15 183.85 L108.39 183.25 L108.63 181.05 L108.87 180.23 L109.11 178.26 L109.35 175.77 L109.59 173.18 L109.83 170.39 L110.07 169.14 L110.31 164.99 L110.55 163.78 L110.78 161.24 L111.02 159.33 L111.26 158.3 L111.5 159.53 L111.74 160.95 L111.98 161.56 L112.22 164.15 L112.46 167.32 L112.7 169.65 L112.94 172.98 L113.18 174.25 L113.42 176.95 L113.65 178.08 L113.89 181.26 L114.13 181.4 L114.37 181.9 L114.61 183.78 L114.85 184.52 L115.09 186.03 L115.33 185.47 L115.57 185.97 L115.81 186.51 L116.05 187.17 L116.29 186.58 L116.52 187.19 L116.76 187.04 L117 186.73 L117.24 186.94 L117.48 186.93 L117.72 186.5 L117.96 187.44 L118.2 186.22 L118.44 187.29 L118.68 187.07 L118.92 186.44 L119.16 185.92 L119.39 185.86 L119.63 185.78 L119.87 185.39 L120.11 184.51 L120.35 183.98 L120.59 182.22 L120.83 181.28 L121.07 178.91 L121.31 178.14 L121.55 175.78 L121.79 173.2 L122.03 171.4 L122.26 168.59 L122.5 164.44 L122.74 163.35 L122.98 160.71 L123.22 160.5 L123.46 160.62 L123.7 159.64 L123.94 161.13 L124.18 162.9 L124.42 165.54 L124.66 168.3 L124.9 171.29 L125.13 172.89 L125.37 176.5 L125.61 177.61 L125.85 180.13 L126.09 182.24 L126.33 183.49 L126.57 183.95 L126.81 185.04 L127.05 185.94 L127.29 186.77 L127.53 187.81 L127.76 187.12 L128 188.23 L128.24 188.56 L128.48 188.74 L128.72 188.88 L128.96 189.5 L129.2 189.15 L129.44 189.42 L129.68 189.38 L129.92 190 L130.16 188.39 L130.4 189.87 L130.63 189.19 L130.87 189.19 L131.11 188.86 L131.35 188.42 L131.59 189.02 L131.83 188.78 L132.07 189.19 L132.31 188.14 L132.55 189.25 L132.79 188.5 L133.03 188.01 L133.27 187.53 L133.5 187.22 L133.74 186.79 L133.98 186.83 L134.22 186.9 L134.46 186.73 L134.7 186.18 L134.94 186.81 L135.18 186.72 L135.42 187.46 L135.66 188.52 L135.9 188.28 L136.14 188.17 L136.37 187.88 L136.61 188.25 L136.85 188.37 L137.09 189.67 L137.33 189.19 L137.57 189.71 L137.81 189.53 L138.05 189.96 L138.29 190.63 L138.53 189.76 L138.77 189.96 L139.01 189.79 L139.24 190.58 L139.48 189.76 L139.72 189.73 L139.96 189.63 L140.2 189.64 L140.44 190.5 L140.68 191.45 L140.92 189.86 L141.16 190.74 L141.4 190.43 L141.64 189.82 L141.88 190.2 L142.11 190.22 L142.35 190.01 L142.59 191.19 L142.83 189.46 L143.07 190.49 L143.31 190.46 L143.55 190.05 L143.79 190.37 L144.03 190.69 L144.27 190.36 L144.51 190.47 L144.74 190.58 L144.98 189.34 L145.22 190.91 L145.46 191.25 L145.7 190.65 L145.94 190.65 L146.18 189.54 L146.42 190.1 L146.66 189.76 L146.9 189.84 L147.14 190.51 L147.38 189.68 L147.61 189.95 L147.85 189.11 L148.09 189.85 L148.33 189.91 L148.57 189.5 L148.81 189.44 L149.05 190.54 L149.29 189.07 L149.53 189.06 L149.77 189.06 L150.01 189.84 L150.25 190.1 L150.48 189.13 L150.72 188.43 L150.96 188.28 L151.2 188.6 L151.44 187.27 L151.68 187.78 L151.92 187.08 L152.16 185.62 L152.4 184.86 L152.64 183.7 L152.88 182.65 L153.12 179.89 L153.35 179.13 L153.59 176.54 L153.83 174.42 L154.07 172.9 L154.31 171.01 L154.55 169.23 L154.79 168.02 L155.03 167.98 L155.27 169.37 L155.51 170.52 L155.75 171.33 L155.99 173.29 L156.22 174.39 L156.46 176.5 L156.7 178.5 L156.94 179.6 L157.18 181.18 L157.42 183.01 L157.66 183.97 L157.9 184.59 L158.14 186.02 L158.38 186.33 L158.62 187.37 L158.86 187.24 L159.09 187.33 L159.33 187.65 L159.57 187.56 L159.81 187.28 L160.05 187.26 L160.29 187.54 L160.53 187.14 L160.77 186.95 L161.01 184.99 L161.25 184.79 L161.49 183.82 L161.72 182.94 L161.96 181.33 L162.2 179.82 L162.44 178.77 L162.68 176.78 L162.92 174.45 L163.16 173.93 L163.4 172.37 L163.64 170.62 L163.88 170.72 L164.12 170.07 L164.36 171.55 L164.59 172.08 L164.83 173.31 L165.07 175.2 L165.31 176.81 L165.55 179 L165.79 180.66 L166.03 182.13 L166.27 183.22 L166.51 183.01 L166.75 185.71 L166.99 185.66 L167.23 187.31 L167.46 188.27 L167.7 188.34 L167.94 188.4 L168.18 188.77 L168.42 189.02 L168.66 189.02 L168.9 189.15 L169.14 189.12 L169.38 190.18 L169.62 189.72 L169.86 190.24 L170.1 189.76 L170.33 189.97 L170.57 189.91 L170.81 190.25 L171.05 190.46 L171.29 190.23 L171.53 189.86 L171.77 189.84 L172.01 190.97 L172.25 190.13 L172.49 190.15 L172.73 190.97 L172.97 190.82 L173.2 190.59 L173.44 190.19 L173.68 191.45 L173.92 190.58 L174.16 190.67 L174.4 190.36 L174.64 189.82 L174.88 189.86 L175.12 190.66 L175.36 190.66 L175.6 190.39 L175.84 189.98 L176.07 189.87 L176.31 190.38 L176.55 189.88 L176.79 190.95 L177.03 191.07 L177.27 191.83 L177.51 190.96 L177.75 190.3 L177.99 190.18 L178.23 189.02 L178.47 190.31 L178.7 190.51 L178.94 191.02 L179.18 190.87 L179.42 190.86 L179.66 190.69 L179.9 190.89 L180.14 191.25 L180.38 190.12 L180.62 190.39 L180.86 189.97 L181.1 191.33 L181.34 191.18 L181.57 190.93 L181.81 190.05 L182.05 190.67 L182.29 190.48 L182.53 190.62 L182.77 190.49 L183.01 190.8 L183.25 190.38 L183.49 190.93 L183.73 190.65 L183.97 190.39 L184.21 190.46 L184.44 190.29 L184.68 190.83 L184.92 190.31 L185.16 190.52 L185.4 190.17 L185.64 189.61 L185.88 190.61 L186.12 189.62 L186.36 190.28 L186.6 190.01 L186.84 188.89 L187.08 188.99 L187.31 188.93 L187.55 188.5 L187.79 188.02 L188.03 188.55 L188.27 187.77 L188.51 187.71 L188.75 187.04 L188.99 187.13 L189.23 186.5 L189.47 186.79 L189.71 187.14 L189.95 187.08 L190.18 187.11 L190.42 187.13 L190.66 188.03 L190.9 188.45 L191.14 188.5 L191.38 188.56 L191.62 189.42 L191.86 190.52 L192.1 189.45 L192.34 189.89 L192.58 190.02 L192.82 188.77 L193.05 190.02 L193.29 189.66 L193.53 190.58 L193.77 189.79 L194.01 189.47 L194.25 189.62 L194.49 189.65 L194.73 189.16 L194.97 189.21 L195.21 188.42 L195.45 188.72 L195.68 188.97 L195.92 189.33 L196.16 188.62 L196.4 188.34 L196.64 188.74 L196.88 188.72 L197.12 189.14 L197.36 189.05 L197.6 188.72 L197.84 189.11 L198.08 189.3 L198.32 189.57 L198.55 189.72 L198.79 189.46 L199.03 189.02 L199.27 189.8 L199.51 189.31 L199.75 190.34 L199.99 190.39 L200.23 189.7 L200.47 190.81 L200.71 190.93 L200.95 190.61 L201.19 191.34 L201.42 191.46 L201.66 190.09 L201.9 191.11 L202.14 190.86 L202.38 190.86 L202.62 191.1 L202.86 190.36 L203.1 190.43 L203.34 190.33 L203.58 190.36 L203.82 190.66 L204.06 190.06 L204.29 190.25 L204.53 190.98 L204.77 190.69 L205.01 190.9 L205.25 189.88 L205.49 190.38 L205.73 190.48 L205.97 190.75 L206.21 190.47 L206.45 191.15 L206.69 190.71 L206.93 190.74 L207.16 190.74 L207.4 191.05 L207.64 190.52 L207.88 191.24 L208.12 190.94 L208.36 190.8 L208.6 190.75 L208.84 190.96 L209.08 191.18 L209.32 191.15 L209.56 190.89 L209.79 191.11 L210.03 190.76 L210.27 191.27 L210.51 190.69 L210.75 189.76 L210.99 191.3 L211.23 190.74 L211.47 190.16 L211.71 190.59 L211.95 190.27 L212.19 191.61 L212.43 190.88 L212.66 189.95 L212.9 190.89 L213.14 190.46 L213.38 191.49 L213.62 190.15 L213.86 189.6 L214.1 190.63 L214.34 190.44 L214.58 190.39 L214.82 189.61 L215.06 190.75 L215.3 191.3 L215.53 189.68 L215.77 191.05 L216.01 190.25 L216.25 191.55 L216.49 190.68 L216.73 190.38 L216.97 190.95 L217.21 190.67 L217.45 190.15 L217.69 190.72 L217.93 190.15 L218.17 189.55 L218.4 191.25 L218.64 190.16 L218.88 190.02 L219.12 190.42 L219.36 189.54 L219.6 189.6 L219.84 189.96 L220.08 189.92 L220.32 190.15 L220.56 190.58 L220.8 189.82 L221.04 190.21 L221.27 190.21 L221.51 189.38 L221.75 189.9 L221.99 189.28 L222.23 190.07 L222.47 189.66 L222.71 189.3 L222.95 188.48 L223.19 188.9 L223.43 188.21 L223.67 188.53 L223.91 187.77 L224.14 187.03 L224.38 187.34 L224.62 186.74 L224.86 185.64 L225.1 185.95 L225.34 184.85 L225.58 184.51 L225.82 184.5 L226.06 184.07 L226.3 184.33 L226.54 184.72 L226.77 185.86 L227.01 186.29 L227.25 185.97 L227.49 187.28 L227.73 186.99 L227.97 187.6 L228.21 188.19 L228.45 188.25 L228.69 189.48 L228.93 188.73 L229.17 188.26 L229.41 189.54 L229.64 188.88 L229.88 189.02 L230.12 187.88 L230.36 189.73 L230.6 189.69 L230.84 189.71 L231.08 189.82 L231.32 190.16 L231.56 189.39 L231.8 189.85 L232.04 189.1 L232.28 189.29 L232.51 189.93 L232.75 189.64 L232.99 188.87 L233.23 189.64 L233.47 189.4 L233.71 189.12 L233.95 189.69 L234.19 189.31 L234.43 188.8 L234.67 189.01 L234.91 190.31 L235.15 188.84 L235.38 189.63 L235.62 189.81 L235.86 189.83 L236.1 188.99 L236.34 189.41 L236.58 189.62 L236.82 189.92 L237.06 189.28 L237.3 189.06 L237.54 190.04 L237.78 190.09 L238.02 189.77 L238.25 189.34 L238.49 189.8 L238.73 189.67 L238.97 190.01 L239.21 189.08 L239.45 189.7 L239.69 189.58 L239.93 189.16 L240.17 189.76 L240.41 189.69 L240.65 189.49 L240.89 189.85 L241.12 189.03 L241.36 189.64 L241.6 189.85 L241.84 189.77 L242.08 190.1 L242.32 189.04 L242.56 188.86 L242.8 189.58 L243.04 189.6 L243.28 190.25 L243.52 189.44 L243.75 188.62 L243.99 189.2 L244.23 188.26 L244.47 187.75 L244.71 189.36 L244.95 188.1 L245.19 188.05 L245.43 187.78 L245.67 188.2 L245.91 187.44 L246.15 187.86 L246.39 186.94 L246.62 186.93 L246.86 188.41 L247.1 188.68 L247.34 188.49 L247.58 188.62 L247.82 188.83 L248.06 188.66 L248.3 189.84 L248.54 189.61 L248.78 189.66 L249.02 189.7 L249.26 190.06 L249.49 189.84 L249.73 189.95 L249.97 189.05 L250.21 189.73 L250.45 190.37 L250.69 189 L250.93 188.99 L251.17 189.22 L251.41 188.99 L251.65 188.55 L251.89 187.24 L252.13 187.88 L252.36 186.82 L252.6 186.73 L252.84 187.15 L253.08 186.67 L253.32 187.18 L253.56 188.36 L253.8 187.51 L254.04 187.77 L254.28 187.37 L254.52 187.82 L254.76 187.97 L255 188.54 L255.23 188.58 L255.47 189.04 L255.71 189.48 L255.95 189.32 L256.19 189.3 L256.43 189.46 L256.67 190.39 L256.91 190.31 L257.15 190.82 L257.39 190.88 L257.63 190.31 L257.87 190.8 L258.1 189.89 L258.34 191.59 L258.58 191.13 L258.82 190.51 L259.06 190.1 L259.3 190.81" fill="none" stroke="#fda802" stroke-width="2.0" stroke-linejoin="round" stroke-linecap="round"/>
<text x="63" y="40" font-size="10.2" text-anchor="middle" font-weight="bold" font-style="normal" fill="#000" transform="rotate(-90 63 40)">(100)</text>
<text x="83.6" y="66" font-size="10.2" text-anchor="middle" font-weight="bold" font-style="normal" fill="#000" transform="rotate(-90 83.6 66)">(110)</text>
<text x="100" y="66" font-size="10.2" text-anchor="middle" font-weight="bold" font-style="normal" fill="#000" transform="rotate(-90 100 66)">(111)</text>
<text x="113.4" y="26.8" font-size="10.2" text-anchor="middle" font-weight="bold" font-style="normal" fill="#000" transform="rotate(-90 113.4 26.8)">(200)</text>
<text x="125.6" y="26.1" font-size="10.2" text-anchor="middle" font-weight="bold" font-style="normal" fill="#000" transform="rotate(-90 125.6 26.1)">(210)</text>
<text x="138" y="71.5" font-size="10.2" text-anchor="middle" font-weight="bold" font-style="normal" fill="#000" transform="rotate(-90 138 71.5)">(211)</text>
<text x="156.5" y="40.5" font-size="10.2" text-anchor="middle" font-weight="bold" font-style="normal" fill="#000" transform="rotate(-90 156.5 40.5)">(220)</text>
<text x="166.6" y="48.1" font-size="10.2" text-anchor="middle" font-weight="bold" font-style="normal" fill="#000" transform="rotate(-90 166.6 48.1)">(300)</text>
<text x="189" y="70" font-size="10" text-anchor="start" font-weight="normal" font-style="normal" fill="#000">L-MAPbI<tspan font-size="7.5" dy="3">3</tspan><tspan dy="-3"> QDs</tspan></text>
<text x="186.5" y="130.1" font-size="10" text-anchor="start" font-weight="normal" font-style="normal" fill="#000">M-MAPbI<tspan font-size="7.5" dy="3">3</tspan><tspan dy="-3"> QDs</tspan></text>
<text x="187" y="178.3" font-size="10" text-anchor="start" font-weight="normal" font-style="normal" fill="#000">S-MAPbI<tspan font-size="7.5" dy="3">3</tspan><tspan dy="-3"> QDs</tspan></text>
<rect x="327" y="12.3" width="198.3" height="178.7" fill="none" stroke="#000" stroke-width="1.4"/>
<line x1="327" y1="191" x2="327" y2="194.2" stroke="#000" stroke-width="1.1"/>
<text x="327" y="206.6" font-size="12" text-anchor="middle" font-weight="normal" font-style="normal" fill="#000">600</text>
<line x1="343.52" y1="191" x2="343.52" y2="193" stroke="#000" stroke-width="1.1"/>
<line x1="360.05" y1="191" x2="360.05" y2="194.2" stroke="#000" stroke-width="1.1"/>
<text x="360.05" y="206.6" font-size="12" text-anchor="middle" font-weight="normal" font-style="normal" fill="#000">650</text>
<line x1="376.57" y1="191" x2="376.57" y2="193" stroke="#000" stroke-width="1.1"/>
<line x1="393.1" y1="191" x2="393.1" y2="194.2" stroke="#000" stroke-width="1.1"/>
<text x="393.1" y="206.6" font-size="12" text-anchor="middle" font-weight="normal" font-style="normal" fill="#000">700</text>
<line x1="409.62" y1="191" x2="409.62" y2="193" stroke="#000" stroke-width="1.1"/>
<line x1="426.15" y1="191" x2="426.15" y2="194.2" stroke="#000" stroke-width="1.1"/>
<text x="426.15" y="206.6" font-size="12" text-anchor="middle" font-weight="normal" font-style="normal" fill="#000">750</text>
<line x1="442.67" y1="191" x2="442.67" y2="193" stroke="#000" stroke-width="1.1"/>
<line x1="459.2" y1="191" x2="459.2" y2="194.2" stroke="#000" stroke-width="1.1"/>
<text x="459.2" y="206.6" font-size="12" text-anchor="middle" font-weight="normal" font-style="normal" fill="#000">800</text>
<line x1="475.72" y1="191" x2="475.72" y2="193" stroke="#000" stroke-width="1.1"/>
<line x1="492.25" y1="191" x2="492.25" y2="194.2" stroke="#000" stroke-width="1.1"/>
<text x="492.25" y="206.6" font-size="12" text-anchor="middle" font-weight="normal" font-style="normal" fill="#000">850</text>
<line x1="508.77" y1="191" x2="508.77" y2="193" stroke="#000" stroke-width="1.1"/>
<line x1="525.3" y1="191" x2="525.3" y2="194.2" stroke="#000" stroke-width="1.1"/>
<text x="525.3" y="206.6" font-size="12" text-anchor="middle" font-weight="normal" font-style="normal" fill="#000">900</text>
<text x="426.2" y="220" font-size="16.4" text-anchor="middle" font-weight="normal" font-style="normal" fill="#000">Wavelength (nm)</text>
<text x="316" y="100.9" font-size="16.4" text-anchor="middle" font-weight="normal" font-style="normal" fill="#000" transform="rotate(-90 316 100.9)">Norm. Absorbance (a.u.)</text>
<text x="531.7" y="102.6" font-size="16.4" text-anchor="middle" font-weight="normal" font-style="normal" fill="#000" transform="rotate(90 531.7 102.6)">Norm. PL Intensity (a.u.)</text>
<text x="291.8" y="21.5" font-size="20.5" text-anchor="start" font-weight="bold" font-style="normal" fill="#000" stroke="#000" stroke-width="0.6">b</text>
<path d="M327 51.72 L327.5 52.61 L327.99 53.48 L328.49 54.35 L328.98 55.2 L329.48 56.06 L329.98 56.9 L330.47 57.74 L330.97 58.57 L331.47 59.39 L331.96 60.2 L332.46 61.01 L332.95 61.81 L333.45 62.61 L333.95 63.4 L334.44 64.18 L334.94 64.95 L335.44 65.72 L335.93 66.49 L336.43 67.24 L336.92 67.99 L337.42 68.74 L337.92 69.48 L338.41 70.21 L338.91 70.93 L339.41 71.65 L339.9 72.37 L340.4 73.08 L340.89 73.78 L341.39 74.48 L341.89 75.17 L342.38 75.86 L342.88 76.54 L343.38 77.22 L343.87 77.9 L344.37 78.56 L344.86 79.23 L345.36 79.88 L345.86 80.54 L346.35 81.19 L346.85 81.83 L347.35 82.47 L347.84 83.11 L348.34 83.74 L348.83 84.36 L349.33 84.99 L349.83 85.61 L350.32 86.22 L350.82 86.83 L351.32 87.44 L351.81 88.04 L352.31 88.64 L352.8 89.24 L353.3 89.83 L353.8 90.42 L354.29 91.01 L354.79 91.59 L355.29 92.17 L355.78 92.75 L356.28 93.33 L356.77 93.9 L357.27 94.47 L357.77 95.03 L358.26 95.6 L358.76 96.16 L359.26 96.72 L359.75 97.27 L360.25 97.83 L360.74 98.38 L361.24 98.93 L361.74 99.47 L362.23 100.02 L362.73 100.56 L363.23 101.1 L363.72 101.64 L364.22 102.18 L364.71 102.72 L365.21 103.26 L365.71 103.79 L366.2 104.32 L366.7 104.85 L367.2 105.38 L367.69 105.91 L368.19 106.44 L368.68 106.97 L369.18 107.49 L369.68 108.02 L370.17 108.54 L370.67 109.06 L371.17 109.59 L371.66 110.11 L372.16 110.63 L372.65 111.15 L373.15 111.67 L373.65 112.19 L374.14 112.71 L374.64 113.23 L375.14 113.75 L375.63 114.27 L376.13 114.79 L376.62 115.31 L377.12 115.84 L377.62 116.36 L378.11 116.88 L378.61 117.4 L379.11 117.92 L379.6 118.45 L380.1 118.97 L380.59 119.49 L381.09 120.02 L381.59 120.55 L382.08 121.07 L382.58 121.6 L383.08 122.13 L383.57 122.66 L384.07 123.19 L384.56 123.73 L385.06 124.26 L385.56 124.8 L386.05 125.34 L386.55 125.88 L387.05 126.42 L387.54 126.96 L388.04 127.51 L388.53 128.05 L389.03 128.6 L389.53 129.16 L390.02 129.71 L390.52 130.27 L391.02 130.84 L391.51 131.41 L392.01 131.98 L392.5 132.57 L393 133.15 L393.5 133.74 L393.99 134.34 L394.49 134.95 L394.98 135.57 L395.48 136.19 L395.98 136.82 L396.47 137.46 L396.97 138.11 L397.47 138.77 L397.96 139.44 L398.46 140.12 L398.95 140.81 L399.45 141.51 L399.95 142.22 L400.44 142.94 L400.94 143.68 L401.44 144.43 L401.93 145.19 L402.43 145.97 L402.92 146.76 L403.42 147.56 L403.92 148.38 L404.41 149.21 L404.91 150.05 L405.41 150.9 L405.9 151.76 L406.4 152.63 L406.89 153.5 L407.39 154.38 L407.89 155.27 L408.38 156.16 L408.88 157.06 L409.38 157.96 L409.87 158.86 L410.37 159.77 L410.86 160.67 L411.36 161.58 L411.86 162.48 L412.35 163.38 L412.85 164.28 L413.35 165.18 L413.84 166.06 L414.34 166.95 L414.83 167.82 L415.33 168.69 L415.83 169.55 L416.32 170.39 L416.82 171.23 L417.32 172.05 L417.81 172.86 L418.31 173.65 L418.8 174.43 L419.3 175.19 L419.8 175.93 L420.29 176.66 L420.79 177.36 L421.29 178.04 L421.78 178.7 L422.28 179.33 L422.77 179.94 L423.27 180.53 L423.77 181.09 L424.26 181.62 L424.76 182.13 L425.26 182.61 L425.75 183.07 L426.25 183.5 L426.74 183.91 L427.24 184.3 L427.74 184.66 L428.23 185.01 L428.73 185.34 L429.23 185.64 L429.72 185.93 L430.22 186.2 L430.71 186.45 L431.21 186.69 L431.71 186.91 L432.2 187.11 L432.7 187.3 L433.2 187.48 L433.69 187.64 L434.19 187.8 L434.68 187.94 L435.18 188.06 L435.68 188.18 L436.17 188.29 L436.67 188.39 L437.17 188.48 L437.66 188.57 L438.16 188.65 L438.65 188.72 L439.15 188.78 L439.65 188.85 L440.14 188.9 L440.64 188.96 L441.14 189.01 L441.63 189.06 L442.13 189.11 L442.62 189.16 L443.12 189.21 L443.62 189.26 L444.11 189.31 L444.61 189.35 L445.11 189.4 L445.6 189.44 L446.1 189.49 L446.59 189.53 L447.09 189.57 L447.59 189.62 L448.08 189.66 L448.58 189.7 L449.08 189.74 L449.57 189.78 L450.07 189.82 L450.56 189.86 L451.06 189.89 L451.56 189.93 L452.05 189.97 L452.55 190 L453.05 190.04 L453.54 190.07 L454.04 190.1 L454.53 190.14 L455.03 190.17 L455.53 190.2 L456.02 190.23 L456.52 190.26 L457.02 190.29 L457.51 190.3 L458.01 190.3 L458.5 190.3 L459 190.3 L459.5 190.3 L459.99 190.3 L460.49 190.3 L460.98 190.3 L461.48 190.3 L461.98 190.3 L462.47 190.3 L462.97 190.3 L463.47 190.3 L463.96 190.3 L464.46 190.3 L464.95 190.3 L465.45 190.3 L465.95 190.3 L466.44 190.3 L466.94 190.3 L467.44 190.3 L467.93 190.3 L468.43 190.3 L468.92 190.3 L469.42 190.3 L469.92 190.3 L470.41 190.3 L470.91 190.3 L471.41 190.3 L471.9 190.3 L472.4 190.3 L472.89 190.3 L473.39 190.3 L473.89 190.3 L474.38 190.3 L474.88 190.3 L475.38 190.3 L475.87 190.3 L476.37 190.3 L476.86 190.3 L477.36 190.3 L477.86 190.3 L478.35 190.3 L478.85 190.3 L479.35 190.3 L479.84 190.3 L480.34 190.3 L480.83 190.3 L481.33 190.3 L481.83 190.3 L482.32 190.3 L482.82 190.3 L483.32 190.3 L483.81 190.3 L484.31 190.3 L484.8 190.3 L485.3 190.3 L485.8 190.3 L486.29 190.3 L486.79 190.3 L487.29 190.3 L487.78 190.3 L488.28 190.3 L488.77 190.3 L489.27 190.3 L489.77 190.3 L490.26 190.3 L490.76 190.3 L491.26 190.3 L491.75 190.3 L492.25 190.3 L492.74 190.3 L493.24 190.3 L493.74 190.3 L494.23 190.29 L494.73 190.26 L495.23 190.23 L495.72 190.2 L496.22 190.16 L496.71 190.13 L497.21 190.09 L497.71 190.06 L498.2 190.02 L498.7 189.98 L499.2 189.94 L499.69 189.9 L500.19 189.86 L500.68 189.82 L501.18 189.78 L501.68 189.74 L502.17 189.69 L502.67 189.65 L503.17 189.6 L503.66 189.55 L504.16 189.51 L504.65 189.46 L505.15 189.41 L505.65 189.36 L506.14 189.31 L506.64 189.25 L507.14 189.2 L507.63 189.15 L508.13 189.09 L508.62 189.04 L509.12 188.98 L509.62 188.92 L510.11 188.86 L510.61 188.8 L511.11 188.74 L511.6 188.68 L512.1 188.62 L512.59 188.56 L513.09 188.49 L513.59 188.43 L514.08 188.36 L514.58 188.29 L515.08 188.23 L515.57 188.16 L516.07 188.09 L516.56 188.02 L517.06 187.95 L517.56 187.87 L518.05 187.8 L518.55 187.73 L519.05 187.65 L519.54 187.57 L520.04 187.5 L520.53 187.42 L521.03 187.34 L521.53 187.26 L522.02 187.18 L522.52 187.09 L523.02 187.01 L523.51 186.93 L524.01 186.84 L524.5 186.76 L525 186.67" fill="none" stroke="#2cee2c" stroke-width="1.9" stroke-linejoin="round" stroke-linecap="round"/>
<path d="M327 36.14 L327.5 37.29 L327.99 38.41 L328.49 39.51 L328.98 40.6 L329.48 41.66 L329.98 42.71 L330.47 43.74 L330.97 44.75 L331.47 45.74 L331.96 46.72 L332.46 47.68 L332.95 48.62 L333.45 49.55 L333.95 50.46 L334.44 51.36 L334.94 52.24 L335.44 53.11 L335.93 53.96 L336.43 54.81 L336.92 55.63 L337.42 56.45 L337.92 57.26 L338.41 58.05 L338.91 58.83 L339.41 59.6 L339.9 60.36 L340.4 61.11 L340.89 61.85 L341.39 62.58 L341.89 63.3 L342.38 64.01 L342.88 64.72 L343.38 65.41 L343.87 66.1 L344.37 66.78 L344.86 67.46 L345.36 68.13 L345.86 68.79 L346.35 69.45 L346.85 70.11 L347.35 70.76 L347.84 71.4 L348.34 72.04 L348.83 72.68 L349.33 73.31 L349.83 73.95 L350.32 74.58 L350.82 75.2 L351.32 75.83 L351.81 76.46 L352.31 77.08 L352.8 77.71 L353.3 78.33 L353.8 78.96 L354.29 79.59 L354.79 80.21 L355.29 80.84 L355.78 81.47 L356.28 82.09 L356.77 82.72 L357.27 83.35 L357.77 83.98 L358.26 84.6 L358.76 85.23 L359.26 85.86 L359.75 86.49 L360.25 87.12 L360.74 87.75 L361.24 88.37 L361.74 89 L362.23 89.63 L362.73 90.26 L363.23 90.89 L363.72 91.51 L364.22 92.14 L364.71 92.77 L365.21 93.4 L365.71 94.02 L366.2 94.65 L366.7 95.28 L367.2 95.9 L367.69 96.53 L368.19 97.15 L368.68 97.78 L369.18 98.4 L369.68 99.03 L370.17 99.65 L370.67 100.27 L371.17 100.89 L371.66 101.52 L372.16 102.14 L372.65 102.76 L373.15 103.38 L373.65 104 L374.14 104.62 L374.64 105.23 L375.14 105.85 L375.63 106.47 L376.13 107.09 L376.62 107.71 L377.12 108.33 L377.62 108.96 L378.11 109.6 L378.61 110.24 L379.11 110.88 L379.6 111.54 L380.1 112.2 L380.59 112.87 L381.09 113.56 L381.59 114.25 L382.08 114.96 L382.58 115.68 L383.08 116.41 L383.57 117.16 L384.07 117.93 L384.56 118.71 L385.06 119.51 L385.56 120.33 L386.05 121.17 L386.55 122.03 L387.05 122.91 L387.54 123.82 L388.04 124.74 L388.53 125.7 L389.03 126.67 L389.53 127.68 L390.02 128.71 L390.52 129.76 L391.02 130.85 L391.51 131.97 L392.01 133.11 L392.5 134.29 L393 135.51 L393.5 136.75 L393.99 138.03 L394.49 139.35 L394.98 140.7 L395.48 142.09 L395.98 143.51 L396.47 144.98 L396.97 146.48 L397.47 148.02 L397.96 149.59 L398.46 151.19 L398.95 152.8 L399.45 154.42 L399.95 156.05 L400.44 157.67 L400.94 159.29 L401.44 160.89 L401.93 162.48 L402.43 164.04 L402.92 165.56 L403.42 167.05 L403.92 168.49 L404.41 169.89 L404.91 171.22 L405.41 172.5 L405.9 173.7 L406.4 174.83 L406.89 175.89 L407.39 176.88 L407.89 177.8 L408.38 178.66 L408.88 179.46 L409.38 180.21 L409.87 180.9 L410.37 181.53 L410.86 182.12 L411.36 182.66 L411.86 183.17 L412.35 183.63 L412.85 184.05 L413.35 184.44 L413.84 184.8 L414.34 185.13 L414.83 185.44 L415.33 185.73 L415.83 185.99 L416.32 186.25 L416.82 186.48 L417.32 186.71 L417.81 186.93 L418.31 187.14 L418.8 187.34 L419.3 187.53 L419.8 187.71 L420.29 187.88 L420.79 188.04 L421.29 188.2 L421.78 188.34 L422.28 188.48 L422.77 188.61 L423.27 188.73 L423.77 188.85 L424.26 188.96 L424.76 189.06 L425.26 189.15 L425.75 189.24 L426.25 189.32 L426.74 189.4 L427.24 189.47 L427.74 189.53 L428.23 189.59 L428.73 189.64 L429.23 189.68 L429.72 189.72 L430.22 189.76 L430.71 189.79 L431.21 189.82 L431.71 189.84 L432.2 189.86 L432.7 189.88 L433.2 189.89 L433.69 189.9 L434.19 189.9 L434.68 189.9 L435.18 189.9 L435.68 189.9 L436.17 189.89 L436.67 189.88 L437.17 189.87 L437.66 189.86 L438.16 189.85 L438.65 189.83 L439.15 189.82 L439.65 189.8 L440.14 189.78 L440.64 189.76 L441.14 189.74 L441.63 189.72 L442.13 189.7 L442.62 189.68 L443.12 189.66 L443.62 189.64 L444.11 189.62 L444.61 189.6 L445.11 189.59 L445.6 189.57 L446.1 189.56 L446.59 189.55 L447.09 189.53 L447.59 189.52 L448.08 189.52 L448.58 189.51 L449.08 189.5 L449.57 189.5 L450.07 189.49 L450.56 189.49 L451.06 189.48 L451.56 189.48 L452.05 189.48 L452.55 189.48 L453.05 189.48 L453.54 189.49 L454.04 189.49 L454.53 189.49 L455.03 189.5 L455.53 189.5 L456.02 189.51 L456.52 189.52 L457.02 189.52 L457.51 189.53 L458.01 189.54 L458.5 189.55 L459 189.56 L459.5 189.57 L459.99 189.59 L460.49 189.6 L460.98 189.61 L461.48 189.62 L461.98 189.64 L462.47 189.65 L462.97 189.67 L463.47 189.68 L463.96 189.7 L464.46 189.72 L464.95 189.73 L465.45 189.75 L465.95 189.77 L466.44 189.78 L466.94 189.8 L467.44 189.82 L467.93 189.84 L468.43 189.85 L468.92 189.87 L469.42 189.89 L469.92 189.91 L470.41 189.93 L470.91 189.95 L471.41 189.97 L471.9 189.99 L472.4 190.01 L472.89 190.02 L473.39 190.04 L473.89 190.06 L474.38 190.08 L474.88 190.1 L475.38 190.12 L475.87 190.14 L476.37 190.15 L476.86 190.17 L477.36 190.19 L477.86 190.21 L478.35 190.23 L478.85 190.24 L479.35 190.26 L479.84 190.28 L480.34 190.29 L480.83 190.3 L481.33 190.3 L481.83 190.3 L482.32 190.3 L482.82 190.3 L483.32 190.3 L483.81 190.3 L484.31 190.3 L484.8 190.3 L485.3 190.3 L485.8 190.3 L486.29 190.3 L486.79 190.3 L487.29 190.3 L487.78 190.3 L488.28 190.3 L488.77 190.3 L489.27 190.3 L489.77 190.3 L490.26 190.3 L490.76 190.3 L491.26 190.3 L491.75 190.3 L492.25 190.3 L492.74 190.3 L493.24 190.3 L493.74 190.3 L494.23 190.3 L494.73 190.3 L495.23 190.3 L495.72 190.3 L496.22 190.3 L496.71 190.3 L497.21 190.3 L497.71 190.3 L498.2 190.3 L498.7 190.3 L499.2 190.3 L499.69 190.3 L500.19 190.3 L500.68 190.3 L501.18 190.3 L501.68 190.28 L502.17 190.26 L502.67 190.23 L503.17 190.21 L503.66 190.18 L504.16 190.15 L504.65 190.12 L505.15 190.08 L505.65 190.05 L506.14 190.01 L506.64 189.97 L507.14 189.93 L507.63 189.89 L508.13 189.85 L508.62 189.81 L509.12 189.76 L509.62 189.71 L510.11 189.66 L510.61 189.61 L511.11 189.56 L511.6 189.5 L512.1 189.44 L512.59 189.38 L513.09 189.32 L513.59 189.26 L514.08 189.19 L514.58 189.13 L515.08 189.06 L515.57 188.99 L516.07 188.91 L516.56 188.84 L517.06 188.76 L517.56 188.68 L518.05 188.6 L518.55 188.51 L519.05 188.43 L519.54 188.34 L520.04 188.25 L520.53 188.15 L521.03 188.06 L521.53 187.96 L522.02 187.86 L522.52 187.76 L523.02 187.65 L523.51 187.55 L524.01 187.44 L524.5 187.32 L525 187.21" fill="none" stroke="#fda802" stroke-width="1.9" stroke-linejoin="round" stroke-linecap="round"/>
<path d="M327 21.12 L327.5 22.09 L327.99 23.05 L328.49 24.02 L328.98 25 L329.48 25.97 L329.98 26.95 L330.47 27.92 L330.97 28.9 L331.47 29.88 L331.96 30.86 L332.46 31.85 L332.95 32.83 L333.45 33.81 L333.95 34.79 L334.44 35.77 L334.94 36.75 L335.44 37.73 L335.93 38.71 L336.43 39.68 L336.92 40.66 L337.42 41.63 L337.92 42.6 L338.41 43.57 L338.91 44.53 L339.41 45.49 L339.9 46.44 L340.4 47.4 L340.89 48.34 L341.39 49.29 L341.89 50.23 L342.38 51.16 L342.88 52.09 L343.38 53.01 L343.87 53.93 L344.37 54.84 L344.86 55.74 L345.36 56.64 L345.86 57.53 L346.35 58.41 L346.85 59.29 L347.35 60.16 L347.84 61.02 L348.34 61.87 L348.83 62.71 L349.33 63.55 L349.83 64.37 L350.32 65.19 L350.82 65.99 L351.32 66.79 L351.81 67.57 L352.31 68.35 L352.8 69.11 L353.3 69.86 L353.8 70.6 L354.29 71.33 L354.79 72.05 L355.29 72.76 L355.78 73.46 L356.28 74.15 L356.77 74.83 L357.27 75.5 L357.77 76.17 L358.26 76.82 L358.76 77.47 L359.26 78.1 L359.75 78.73 L360.25 79.36 L360.74 79.97 L361.24 80.58 L361.74 81.18 L362.23 81.78 L362.73 82.37 L363.23 82.96 L363.72 83.53 L364.22 84.11 L364.71 84.68 L365.21 85.24 L365.71 85.8 L366.2 86.36 L366.7 86.91 L367.2 87.46 L367.69 88.01 L368.19 88.56 L368.68 89.1 L369.18 89.64 L369.68 90.17 L370.17 90.71 L370.67 91.25 L371.17 91.78 L371.66 92.31 L372.16 92.84 L372.65 93.38 L373.15 93.91 L373.65 94.44 L374.14 94.98 L374.64 95.51 L375.14 96.05 L375.63 96.58 L376.13 97.12 L376.62 97.66 L377.12 98.21 L377.62 98.75 L378.11 99.3 L378.61 99.85 L379.11 100.41 L379.6 100.97 L380.1 101.53 L380.59 102.1 L381.09 102.67 L381.59 103.24 L382.08 103.81 L382.58 104.38 L383.08 104.95 L383.57 105.52 L384.07 106.09 L384.56 106.65 L385.06 107.22 L385.56 107.78 L386.05 108.34 L386.55 108.9 L387.05 109.45 L387.54 109.99 L388.04 110.53 L388.53 111.07 L389.03 111.6 L389.53 112.12 L390.02 112.63 L390.52 113.14 L391.02 113.64 L391.51 114.13 L392.01 114.61 L392.5 115.08 L393 115.55 L393.5 116.01 L393.99 116.47 L394.49 116.92 L394.98 117.37 L395.48 117.82 L395.98 118.27 L396.47 118.72 L396.97 119.18 L397.47 119.63 L397.96 120.09 L398.46 120.56 L398.95 121.03 L399.45 121.51 L399.95 121.99 L400.44 122.49 L400.94 122.99 L401.44 123.51 L401.93 124.03 L402.43 124.57 L402.92 125.13 L403.42 125.7 L403.92 126.29 L404.41 126.89 L404.91 127.51 L405.41 128.15 L405.9 128.81 L406.4 129.49 L406.89 130.2 L407.39 130.93 L407.89 131.68 L408.38 132.46 L408.88 133.26 L409.38 134.09 L409.87 134.95 L410.37 135.84 L410.86 136.75 L411.36 137.68 L411.86 138.64 L412.35 139.62 L412.85 140.62 L413.35 141.63 L413.84 142.66 L414.34 143.7 L414.83 144.75 L415.33 145.81 L415.83 146.88 L416.32 147.95 L416.82 149.03 L417.32 150.11 L417.81 151.19 L418.31 152.27 L418.8 153.34 L419.3 154.42 L419.8 155.48 L420.29 156.54 L420.79 157.58 L421.29 158.61 L421.78 159.63 L422.28 160.64 L422.77 161.62 L423.27 162.59 L423.77 163.53 L424.26 164.46 L424.76 165.36 L425.26 166.24 L425.75 167.1 L426.25 167.94 L426.74 168.76 L427.24 169.57 L427.74 170.35 L428.23 171.11 L428.73 171.85 L429.23 172.57 L429.72 173.28 L430.22 173.96 L430.71 174.63 L431.21 175.28 L431.71 175.91 L432.2 176.53 L432.7 177.12 L433.2 177.7 L433.69 178.27 L434.19 178.81 L434.68 179.34 L435.18 179.86 L435.68 180.36 L436.17 180.84 L436.67 181.31 L437.17 181.76 L437.66 182.19 L438.16 182.62 L438.65 183.03 L439.15 183.42 L439.65 183.8 L440.14 184.17 L440.64 184.52 L441.14 184.86 L441.63 185.19 L442.13 185.5 L442.62 185.8 L443.12 186.09 L443.62 186.37 L444.11 186.64 L444.61 186.89 L445.11 187.14 L445.6 187.37 L446.1 187.59 L446.59 187.8 L447.09 188 L447.59 188.19 L448.08 188.37 L448.58 188.55 L449.08 188.71 L449.57 188.86 L450.07 189.01 L450.56 189.14 L451.06 189.27 L451.56 189.39 L452.05 189.5 L452.55 189.61 L453.05 189.7 L453.54 189.79 L454.04 189.87 L454.53 189.95 L455.03 190.02 L455.53 190.08 L456.02 190.14 L456.52 190.19 L457.02 190.24 L457.51 190.28 L458.01 190.3 L458.5 190.3 L459 190.3 L459.5 190.3 L459.99 190.3 L460.49 190.3 L460.98 190.3 L461.48 190.3 L461.98 190.3 L462.47 190.3 L462.97 190.3 L463.47 190.3 L463.96 190.3 L464.46 190.3 L464.95 190.3 L465.45 190.3 L465.95 190.3 L466.44 190.3 L466.94 190.3 L467.44 190.3 L467.93 190.3 L468.43 190.3 L468.92 190.3 L469.42 190.3 L469.92 190.3 L470.41 190.3 L470.91 190.3 L471.41 190.3 L471.9 190.3 L472.4 190.3 L472.89 190.3 L473.39 190.3 L473.89 190.3 L474.38 190.3 L474.88 190.3 L475.38 190.3 L475.87 190.3 L476.37 190.3 L476.86 190.3 L477.36 190.3 L477.86 190.3 L478.35 190.3 L478.85 190.3 L479.35 190.3 L479.84 190.3 L480.34 190.3 L480.83 190.3 L481.33 190.3 L481.83 190.3 L482.32 190.3 L482.82 190.3 L483.32 190.3 L483.81 190.3 L484.31 190.3 L484.8 190.3 L485.3 190.3 L485.8 190.3 L486.29 190.3 L486.79 190.3 L487.29 190.3 L487.78 190.3 L488.28 190.3 L488.77 190.3 L489.27 190.3 L489.77 190.3 L490.26 190.3 L490.76 190.3 L491.26 190.3 L491.75 190.3 L492.25 190.3 L492.74 190.3 L493.24 190.3 L493.74 190.3 L494.23 190.3 L494.73 190.3 L495.23 190.3 L495.72 190.3 L496.22 190.29 L496.71 190.26 L497.21 190.24 L497.71 190.22 L498.2 190.19 L498.7 190.16 L499.2 190.13 L499.69 190.1 L500.19 190.06 L500.68 190.03 L501.18 189.99 L501.68 189.95 L502.17 189.9 L502.67 189.86 L503.17 189.81 L503.66 189.76 L504.16 189.71 L504.65 189.65 L505.15 189.59 L505.65 189.53 L506.14 189.47 L506.64 189.4 L507.14 189.33 L507.63 189.26 L508.13 189.18 L508.62 189.11 L509.12 189.03 L509.62 188.94 L510.11 188.85 L510.61 188.76 L511.11 188.67 L511.6 188.57 L512.1 188.47 L512.59 188.37 L513.09 188.26 L513.59 188.15 L514.08 188.04 L514.58 187.92 L515.08 187.8 L515.57 187.67 L516.07 187.54 L516.56 187.41 L517.06 187.27 L517.56 187.13 L518.05 186.98 L518.55 186.83 L519.05 186.68 L519.54 186.52 L520.04 186.36 L520.53 186.2 L521.03 186.03 L521.53 185.85 L522.02 185.67 L522.52 185.49 L523.02 185.3 L523.51 185.11 L524.01 184.91 L524.5 184.71 L525 184.5" fill="none" stroke="#1c0cf0" stroke-width="1.9" stroke-linejoin="round" stroke-linecap="round"/>
<path d="M327 189.74 L327.33 189.73 L327.66 189.72 L327.99 189.71 L328.32 189.7 L328.66 189.69 L328.99 189.68 L329.32 189.67 L329.65 189.67 L329.98 189.66 L330.31 189.64 L330.64 189.63 L330.97 189.62 L331.3 189.61 L331.63 189.6 L331.97 189.59 L332.3 189.58 L332.63 189.56 L332.96 189.55 L333.29 189.54 L333.62 189.52 L333.95 189.51 L334.28 189.49 L334.61 189.48 L334.95 189.46 L335.28 189.45 L335.61 189.43 L335.94 189.41 L336.27 189.39 L336.6 189.38 L336.93 189.36 L337.26 189.34 L337.59 189.32 L337.92 189.3 L338.26 189.28 L338.59 189.25 L338.92 189.23 L339.25 189.21 L339.58 189.19 L339.91 189.16 L340.24 189.14 L340.57 189.11 L340.9 189.08 L341.24 189.06 L341.57 189.03 L341.9 189 L342.23 188.97 L342.56 188.94 L342.89 188.9 L343.22 188.87 L343.55 188.84 L343.88 188.8 L344.21 188.77 L344.55 188.73 L344.88 188.69 L345.21 188.65 L345.54 188.61 L345.87 188.57 L346.2 188.53 L346.53 188.48 L346.86 188.44 L347.19 188.39 L347.53 188.34 L347.86 188.29 L348.19 188.24 L348.52 188.19 L348.85 188.13 L349.18 188.08 L349.51 188.02 L349.84 187.96 L350.17 187.9 L350.5 187.84 L350.84 187.77 L351.17 187.7 L351.5 187.64 L351.83 187.56 L352.16 187.49 L352.49 187.42 L352.82 187.34 L353.15 187.26 L353.48 187.18 L353.82 187.09 L354.15 187 L354.48 186.91 L354.81 186.82 L355.14 186.73 L355.47 186.63 L355.8 186.53 L356.13 186.42 L356.46 186.31 L356.79 186.2 L357.13 186.09 L357.46 185.97 L357.79 185.85 L358.12 185.73 L358.45 185.6 L358.78 185.47 L359.11 185.33 L359.44 185.19 L359.77 185.04 L360.11 184.9 L360.44 184.74 L360.77 184.58 L361.1 184.42 L361.43 184.25 L361.76 184.08 L362.09 183.9 L362.42 183.72 L362.75 183.53 L363.08 183.34 L363.42 183.14 L363.75 182.93 L364.08 182.72 L364.41 182.5 L364.74 182.28 L365.07 182.05 L365.4 181.81 L365.73 181.56 L366.06 181.31 L366.4 181.05 L366.73 180.78 L367.06 180.51 L367.39 180.22 L367.72 179.93 L368.05 179.63 L368.38 179.32 L368.71 179 L369.04 178.67 L369.37 178.33 L369.71 177.98 L370.04 177.62 L370.37 177.25 L370.7 176.87 L371.03 176.48 L371.36 176.08 L371.69 175.66 L372.02 175.23 L372.35 174.79 L372.69 174.34 L373.02 173.88 L373.35 173.4 L373.68 172.9 L374.01 172.39 L374.34 171.87 L374.67 171.33 L375 170.78 L375.33 170.21 L375.66 169.62 L376 169.02 L376.33 168.4 L376.66 167.76 L376.99 167.1 L377.32 166.43 L377.65 165.73 L377.98 165.02 L378.31 164.28 L378.64 163.53 L378.98 162.75 L379.31 161.95 L379.64 161.13 L379.97 160.29 L380.3 159.42 L380.63 158.53 L380.96 157.61 L381.29 156.67 L381.62 155.7 L381.95 154.71 L382.29 153.69 L382.62 152.64 L382.95 151.57 L383.28 150.47 L383.61 149.33 L383.94 148.17 L384.27 146.98 L384.6 145.76 L384.93 144.51 L385.27 143.22 L385.6 141.91 L385.93 140.56 L386.26 139.17 L386.59 137.76 L386.92 136.31 L387.25 134.83 L387.58 133.31 L387.91 131.76 L388.24 130.18 L388.58 128.56 L388.91 126.9 L389.24 125.21 L389.57 123.49 L389.9 121.73 L390.23 119.94 L390.56 118.11 L390.89 116.25 L391.22 114.35 L391.56 112.43 L391.89 110.47 L392.22 108.47 L392.55 106.45 L392.88 104.4 L393.21 102.32 L393.54 100.22 L393.87 98.09 L394.2 95.94 L394.53 93.76 L394.87 91.56 L395.2 89.35 L395.53 87.12 L395.86 84.88 L396.19 82.63 L396.52 80.37 L396.85 78.11 L397.18 75.85 L397.51 73.59 L397.85 71.34 L398.18 69.09 L398.51 66.86 L398.84 64.65 L399.17 62.47 L399.5 60.3 L399.83 58.18 L400.16 56.08 L400.49 54.03 L400.82 52.03 L401.16 50.07 L401.49 48.18 L401.82 46.34 L402.15 44.57 L402.48 42.87 L402.81 41.25 L403.14 39.71 L403.47 38.25 L403.8 36.89 L404.14 35.61 L404.47 34.44 L404.8 33.37 L405.13 32.4 L405.46 31.55 L405.79 30.8 L406.12 30.17 L406.45 29.66 L406.78 29.26 L407.11 28.99 L407.45 28.84 L407.78 28.8 L408.11 28.88 L408.44 29.07 L408.77 29.37 L409.1 29.78 L409.43 30.3 L409.76 30.92 L410.09 31.64 L410.43 32.47 L410.76 33.39 L411.09 34.41 L411.42 35.53 L411.75 36.73 L412.08 38.02 L412.41 39.39 L412.74 40.84 L413.07 42.36 L413.4 43.96 L413.74 45.62 L414.07 47.34 L414.4 49.12 L414.73 50.95 L415.06 52.83 L415.39 54.76 L415.72 56.73 L416.05 58.73 L416.38 60.76 L416.72 62.83 L417.05 64.91 L417.38 67.02 L417.71 69.14 L418.04 71.28 L418.37 73.43 L418.7 75.58 L419.03 77.73 L419.36 79.89 L419.69 82.04 L420.03 84.19 L420.36 86.32 L420.69 88.45 L421.02 90.56 L421.35 92.66 L421.68 94.75 L422.01 96.81 L422.34 98.85 L422.67 100.87 L423.01 102.87 L423.34 104.84 L423.67 106.79 L424 108.71 L424.33 110.61 L424.66 112.47 L424.99 114.31 L425.32 116.11 L425.65 117.89 L425.98 119.63 L426.32 121.35 L426.65 123.03 L426.98 124.68 L427.31 126.3 L427.64 127.89 L427.97 129.45 L428.3 130.97 L428.63 132.47 L428.96 133.93 L429.29 135.36 L429.63 136.76 L429.96 138.13 L430.29 139.47 L430.62 140.78 L430.95 142.06 L431.28 143.31 L431.61 144.54 L431.94 145.73 L432.27 146.89 L432.61 148.03 L432.94 149.14 L433.27 150.22 L433.6 151.28 L433.93 152.31 L434.26 153.32 L434.59 154.3 L434.92 155.26 L435.25 156.19 L435.58 157.1 L435.92 157.98 L436.25 158.85 L436.58 159.69 L436.91 160.51 L437.24 161.31 L437.57 162.08 L437.9 162.84 L438.23 163.58 L438.56 164.3 L438.9 165 L439.23 165.68 L439.56 166.34 L439.89 166.99 L440.22 167.62 L440.55 168.23 L440.88 168.83 L441.21 169.41 L441.54 169.97 L441.87 170.52 L442.21 171.06 L442.54 171.58 L442.87 172.08 L443.2 172.58 L443.53 173.06 L443.86 173.52 L444.19 173.98 L444.52 174.42 L444.85 174.85 L445.19 175.27 L445.52 175.67 L445.85 176.07 L446.18 176.45 L446.51 176.83 L446.84 177.19 L447.17 177.54 L447.5 177.89 L447.83 178.22 L448.16 178.55 L448.5 178.87 L448.83 179.17 L449.16 179.47 L449.49 179.77 L449.82 180.05 L450.15 180.32 L450.48 180.59 L450.81 180.85 L451.14 181.11 L451.48 181.35 L451.81 181.59 L452.14 181.83 L452.47 182.05 L452.8 182.27 L453.13 182.49 L453.46 182.7 L453.79 182.9 L454.12 183.1 L454.45 183.29 L454.79 183.47 L455.12 183.66 L455.45 183.83 L455.78 184 L456.11 184.17 L456.44 184.33 L456.77 184.49 L457.1 184.64 L457.43 184.79 L457.77 184.93 L458.1 185.08 L458.43 185.21 L458.76 185.35 L459.09 185.47 L459.42 185.6 L459.75 185.72 L460.08 185.84 L460.41 185.96 L460.74 186.07 L461.08 186.18 L461.41 186.28 L461.74 186.39 L462.07 186.49 L462.4 186.59 L462.73 186.68 L463.06 186.77 L463.39 186.86 L463.72 186.95 L464.06 187.03 L464.39 187.12 L464.72 187.2 L465.05 187.28 L465.38 187.35 L465.71 187.42 L466.04 187.5 L466.37 187.57 L466.7 187.63 L467.03 187.7 L467.37 187.76 L467.7 187.83 L468.03 187.89 L468.36 187.94 L468.69 188 L469.02 188.06 L469.35 188.11 L469.68 188.16 L470.01 188.22 L470.35 188.26 L470.68 188.31 L471.01 188.36 L471.34 188.41 L471.67 188.45 L472 188.49 L472.33 188.53 L472.66 188.58 L472.99 188.62 L473.32 188.65 L473.66 188.69 L473.99 188.73 L474.32 188.76 L474.65 188.8 L474.98 188.83 L475.31 188.86 L475.64 188.89 L475.97 188.93 L476.3 188.96 L476.64 188.98 L476.97 189.01 L477.3 189.04 L477.63 189.07 L477.96 189.09 L478.29 189.12 L478.62 189.14 L478.95 189.17 L479.28 189.19 L479.61 189.21 L479.95 189.23 L480.28 189.26 L480.61 189.28 L480.94 189.3 L481.27 189.32 L481.6 189.33 L481.93 189.35 L482.26 189.37 L482.59 189.39 L482.93 189.41 L483.26 189.42 L483.59 189.44 L483.92 189.45 L484.25 189.47 L484.58 189.48 L484.91 189.5 L485.24 189.51 L485.57 189.53 L485.9 189.54 L486.24 189.55 L486.57 189.56 L486.9 189.58 L487.23 189.59 L487.56 189.6 L487.89 189.61 L488.22 189.62 L488.55 189.63 L488.88 189.64 L489.22 189.65 L489.55 189.66 L489.88 189.67 L490.21 189.68 L490.54 189.69 L490.87 189.7 L491.2 189.71 L491.53 189.71 L491.86 189.72 L492.19 189.73 L492.53 189.74 L492.86 189.75 L493.19 189.75 L493.52 189.76 L493.85 189.77 L494.18 189.77 L494.51 189.78 L494.84 189.78 L495.17 189.79 L495.51 189.8 L495.84 189.8 L496.17 189.81 L496.5 189.81 L496.83 189.82 L497.16 189.82 L497.49 189.83 L497.82 189.83 L498.15 189.84 L498.48 189.84 L498.82 189.85 L499.15 189.85 L499.48 189.85 L499.81 189.86 L500.14 189.86 L500.47 189.87 L500.8 189.87 L501.13 189.87 L501.46 189.88 L501.8 189.88 L502.13 189.88 L502.46 189.89 L502.79 189.89 L503.12 189.89 L503.45 189.9 L503.78 189.9 L504.11 189.9 L504.44 189.91 L504.77 189.91 L505.11 189.91 L505.44 189.91 L505.77 189.92 L506.1 189.92 L506.43 189.92 L506.76 189.92 L507.09 189.92 L507.42 189.93 L507.75 189.93 L508.09 189.93 L508.42 189.93 L508.75 189.93 L509.08 189.94 L509.41 189.94 L509.74 189.94 L510.07 189.94 L510.4 189.94 L510.73 189.94 L511.06 189.95 L511.4 189.95 L511.73 189.95 L512.06 189.95 L512.39 189.95 L512.72 189.95 L513.05 189.95 L513.38 189.96 L513.71 189.96 L514.04 189.96 L514.38 189.96 L514.71 189.96 L515.04 189.96 L515.37 189.96 L515.7 189.96 L516.03 189.96 L516.36 189.97 L516.69 189.97 L517.02 189.97 L517.35 189.97 L517.69 189.97 L518.02 189.97 L518.35 189.97 L518.68 189.97 L519.01 189.97 L519.34 189.97 L519.67 189.97 L520 189.97 L520.33 189.98 L520.67 189.98 L521 189.98 L521.33 189.98 L521.66 189.98 L521.99 189.98 L522.32 189.98 L522.65 189.98 L522.98 189.98 L523.31 189.98 L523.64 189.98 L523.98 189.98 L524.31 189.98 L524.64 189.98 L524.97 189.98 L525.3 189.98" fill="none" stroke="#fda802" stroke-width="1.9" stroke-linejoin="round" stroke-linecap="round"/>
<path d="M327 189.91 L327.33 189.91 L327.66 189.91 L327.99 189.91 L328.32 189.9 L328.66 189.9 L328.99 189.9 L329.32 189.89 L329.65 189.89 L329.98 189.89 L330.31 189.88 L330.64 189.88 L330.97 189.88 L331.3 189.87 L331.63 189.87 L331.97 189.87 L332.3 189.86 L332.63 189.86 L332.96 189.85 L333.29 189.85 L333.62 189.84 L333.95 189.84 L334.28 189.84 L334.61 189.83 L334.95 189.83 L335.28 189.82 L335.61 189.81 L335.94 189.81 L336.27 189.8 L336.6 189.8 L336.93 189.79 L337.26 189.78 L337.59 189.78 L337.92 189.77 L338.26 189.76 L338.59 189.76 L338.92 189.75 L339.25 189.74 L339.58 189.73 L339.91 189.73 L340.24 189.72 L340.57 189.71 L340.9 189.7 L341.24 189.69 L341.57 189.68 L341.9 189.67 L342.23 189.66 L342.56 189.65 L342.89 189.64 L343.22 189.63 L343.55 189.62 L343.88 189.61 L344.21 189.6 L344.55 189.58 L344.88 189.57 L345.21 189.56 L345.54 189.55 L345.87 189.53 L346.2 189.52 L346.53 189.5 L346.86 189.49 L347.19 189.47 L347.53 189.46 L347.86 189.44 L348.19 189.42 L348.52 189.41 L348.85 189.39 L349.18 189.37 L349.51 189.35 L349.84 189.33 L350.17 189.31 L350.5 189.29 L350.84 189.27 L351.17 189.24 L351.5 189.22 L351.83 189.2 L352.16 189.17 L352.49 189.15 L352.82 189.12 L353.15 189.1 L353.48 189.07 L353.82 189.04 L354.15 189.01 L354.48 188.98 L354.81 188.95 L355.14 188.92 L355.47 188.89 L355.8 188.85 L356.13 188.82 L356.46 188.78 L356.79 188.75 L357.13 188.71 L357.46 188.67 L357.79 188.63 L358.12 188.59 L358.45 188.54 L358.78 188.5 L359.11 188.45 L359.44 188.41 L359.77 188.36 L360.11 188.31 L360.44 188.26 L360.77 188.21 L361.1 188.15 L361.43 188.1 L361.76 188.04 L362.09 187.98 L362.42 187.92 L362.75 187.85 L363.08 187.79 L363.42 187.72 L363.75 187.65 L364.08 187.58 L364.41 187.51 L364.74 187.43 L365.07 187.36 L365.4 187.28 L365.73 187.19 L366.06 187.11 L366.4 187.02 L366.73 186.93 L367.06 186.84 L367.39 186.74 L367.72 186.64 L368.05 186.54 L368.38 186.44 L368.71 186.33 L369.04 186.22 L369.37 186.1 L369.71 185.98 L370.04 185.86 L370.37 185.74 L370.7 185.61 L371.03 185.48 L371.36 185.34 L371.69 185.2 L372.02 185.05 L372.35 184.9 L372.69 184.75 L373.02 184.59 L373.35 184.43 L373.68 184.26 L374.01 184.08 L374.34 183.91 L374.67 183.72 L375 183.53 L375.33 183.34 L375.66 183.13 L376 182.93 L376.33 182.71 L376.66 182.49 L376.99 182.27 L377.32 182.03 L377.65 181.79 L377.98 181.54 L378.31 181.29 L378.64 181.03 L378.98 180.75 L379.31 180.48 L379.64 180.19 L379.97 179.89 L380.3 179.59 L380.63 179.27 L380.96 178.95 L381.29 178.62 L381.62 178.27 L381.95 177.92 L382.29 177.56 L382.62 177.18 L382.95 176.8 L383.28 176.4 L383.61 175.99 L383.94 175.57 L384.27 175.14 L384.6 174.69 L384.93 174.23 L385.27 173.76 L385.6 173.27 L385.93 172.77 L386.26 172.25 L386.59 171.72 L386.92 171.17 L387.25 170.61 L387.58 170.03 L387.91 169.44 L388.24 168.82 L388.58 168.19 L388.91 167.54 L389.24 166.87 L389.57 166.19 L389.9 165.48 L390.23 164.75 L390.56 164 L390.89 163.23 L391.22 162.44 L391.56 161.63 L391.89 160.79 L392.22 159.93 L392.55 159.05 L392.88 158.14 L393.21 157.2 L393.54 156.24 L393.87 155.26 L394.2 154.24 L394.53 153.2 L394.87 152.14 L395.2 151.04 L395.53 149.91 L395.86 148.76 L396.19 147.57 L396.52 146.36 L396.85 145.11 L397.18 143.83 L397.51 142.52 L397.85 141.17 L398.18 139.8 L398.51 138.39 L398.84 136.94 L399.17 135.46 L399.5 133.95 L399.83 132.4 L400.16 130.82 L400.49 129.2 L400.82 127.55 L401.16 125.86 L401.49 124.13 L401.82 122.37 L402.15 120.58 L402.48 118.75 L402.81 116.88 L403.14 114.98 L403.47 113.05 L403.8 111.09 L404.14 109.09 L404.47 107.06 L404.8 105.01 L405.13 102.92 L405.46 100.81 L405.79 98.67 L406.12 96.5 L406.45 94.31 L406.78 92.11 L407.11 89.88 L407.45 87.64 L407.78 85.38 L408.11 83.12 L408.44 80.84 L408.77 78.56 L409.1 76.28 L409.43 74.01 L409.76 71.73 L410.09 69.47 L410.43 67.22 L410.76 64.99 L411.09 62.78 L411.42 60.6 L411.75 58.45 L412.08 56.34 L412.41 54.26 L412.74 52.24 L413.07 50.27 L413.4 48.35 L413.74 46.49 L414.07 44.7 L414.4 42.99 L414.73 41.35 L415.06 39.79 L415.39 38.32 L415.72 36.93 L416.05 35.65 L416.38 34.46 L416.72 33.38 L417.05 32.41 L417.38 31.55 L417.71 30.8 L418.04 30.16 L418.37 29.65 L418.7 29.25 L419.03 28.98 L419.36 28.83 L419.69 28.8 L420.03 28.89 L420.36 29.09 L420.69 29.4 L421.02 29.82 L421.35 30.35 L421.68 30.99 L422.01 31.73 L422.34 32.57 L422.67 33.52 L423.01 34.56 L423.34 35.69 L423.67 36.92 L424 38.23 L424.33 39.62 L424.66 41.1 L424.99 42.64 L425.32 44.26 L425.65 45.95 L425.98 47.7 L426.32 49.5 L426.65 51.36 L426.98 53.27 L427.31 55.22 L427.64 57.21 L427.97 59.23 L428.3 61.29 L428.63 63.38 L428.96 65.49 L429.29 67.62 L429.63 69.76 L429.96 71.92 L430.29 74.08 L430.62 76.25 L430.95 78.42 L431.28 80.59 L431.61 82.76 L431.94 84.92 L432.27 87.07 L432.61 89.21 L432.94 91.33 L433.27 93.44 L433.6 95.54 L433.93 97.61 L434.26 99.66 L434.59 101.69 L434.92 103.69 L435.25 105.67 L435.58 107.62 L435.92 109.54 L436.25 111.44 L436.58 113.3 L436.91 115.14 L437.24 116.95 L437.57 118.72 L437.9 120.46 L438.23 122.18 L438.56 123.86 L438.9 125.51 L439.23 127.12 L439.56 128.71 L439.89 130.26 L440.22 131.78 L440.55 133.27 L440.88 134.73 L441.21 136.15 L441.54 137.54 L441.87 138.91 L442.21 140.24 L442.54 141.54 L442.87 142.82 L443.2 144.06 L443.53 145.27 L443.86 146.46 L444.19 147.61 L444.52 148.74 L444.85 149.84 L445.19 150.92 L445.52 151.97 L445.85 152.99 L446.18 153.99 L446.51 154.96 L446.84 155.9 L447.17 156.83 L447.5 157.73 L447.83 158.6 L448.16 159.46 L448.5 160.29 L448.83 161.1 L449.16 161.89 L449.49 162.66 L449.82 163.41 L450.15 164.14 L450.48 164.84 L450.81 165.54 L451.14 166.21 L451.48 166.86 L451.81 167.5 L452.14 168.12 L452.47 168.72 L452.8 169.31 L453.13 169.88 L453.46 170.44 L453.79 170.98 L454.12 171.51 L454.45 172.02 L454.79 172.52 L455.12 173 L455.45 173.47 L455.78 173.93 L456.11 174.38 L456.44 174.81 L456.77 175.23 L457.1 175.65 L457.43 176.04 L457.77 176.43 L458.1 176.81 L458.43 177.18 L458.76 177.53 L459.09 177.88 L459.42 178.22 L459.75 178.55 L460.08 178.87 L460.41 179.18 L460.74 179.48 L461.08 179.77 L461.41 180.06 L461.74 180.34 L462.07 180.61 L462.4 180.87 L462.73 181.12 L463.06 181.37 L463.39 181.61 L463.72 181.85 L464.06 182.07 L464.39 182.3 L464.72 182.51 L465.05 182.72 L465.38 182.92 L465.71 183.12 L466.04 183.31 L466.37 183.5 L466.7 183.68 L467.03 183.86 L467.37 184.03 L467.7 184.2 L468.03 184.36 L468.36 184.52 L468.69 184.67 L469.02 184.82 L469.35 184.97 L469.68 185.11 L470.01 185.24 L470.35 185.38 L470.68 185.51 L471.01 185.63 L471.34 185.75 L471.67 185.87 L472 185.99 L472.33 186.1 L472.66 186.21 L472.99 186.32 L473.32 186.42 L473.66 186.52 L473.99 186.62 L474.32 186.71 L474.65 186.8 L474.98 186.89 L475.31 186.98 L475.64 187.07 L475.97 187.15 L476.3 187.23 L476.64 187.31 L476.97 187.38 L477.3 187.45 L477.63 187.53 L477.96 187.59 L478.29 187.66 L478.62 187.73 L478.95 187.79 L479.28 187.85 L479.61 187.91 L479.95 187.97 L480.28 188.03 L480.61 188.08 L480.94 188.14 L481.27 188.19 L481.6 188.24 L481.93 188.29 L482.26 188.34 L482.59 188.38 L482.93 188.43 L483.26 188.47 L483.59 188.52 L483.92 188.56 L484.25 188.6 L484.58 188.64 L484.91 188.68 L485.24 188.71 L485.57 188.75 L485.9 188.78 L486.24 188.82 L486.57 188.85 L486.9 188.88 L487.23 188.91 L487.56 188.95 L487.89 188.97 L488.22 189 L488.55 189.03 L488.88 189.06 L489.22 189.08 L489.55 189.11 L489.88 189.14 L490.21 189.16 L490.54 189.18 L490.87 189.21 L491.2 189.23 L491.53 189.25 L491.86 189.27 L492.19 189.29 L492.53 189.31 L492.86 189.33 L493.19 189.35 L493.52 189.37 L493.85 189.39 L494.18 189.4 L494.51 189.42 L494.84 189.44 L495.17 189.45 L495.51 189.47 L495.84 189.48 L496.17 189.5 L496.5 189.51 L496.83 189.52 L497.16 189.54 L497.49 189.55 L497.82 189.56 L498.15 189.58 L498.48 189.59 L498.82 189.6 L499.15 189.61 L499.48 189.62 L499.81 189.63 L500.14 189.64 L500.47 189.65 L500.8 189.66 L501.13 189.67 L501.46 189.68 L501.8 189.69 L502.13 189.7 L502.46 189.71 L502.79 189.71 L503.12 189.72 L503.45 189.73 L503.78 189.74 L504.11 189.75 L504.44 189.75 L504.77 189.76 L505.11 189.77 L505.44 189.77 L505.77 189.78 L506.1 189.79 L506.43 189.79 L506.76 189.8 L507.09 189.8 L507.42 189.81 L507.75 189.81 L508.09 189.82 L508.42 189.82 L508.75 189.83 L509.08 189.83 L509.41 189.84 L509.74 189.84 L510.07 189.85 L510.4 189.85 L510.73 189.86 L511.06 189.86 L511.4 189.86 L511.73 189.87 L512.06 189.87 L512.39 189.87 L512.72 189.88 L513.05 189.88 L513.38 189.89 L513.71 189.89 L514.04 189.89 L514.38 189.89 L514.71 189.9 L515.04 189.9 L515.37 189.9 L515.7 189.91 L516.03 189.91 L516.36 189.91 L516.69 189.91 L517.02 189.92 L517.35 189.92 L517.69 189.92 L518.02 189.92 L518.35 189.92 L518.68 189.93 L519.01 189.93 L519.34 189.93 L519.67 189.93 L520 189.93 L520.33 189.94 L520.67 189.94 L521 189.94 L521.33 189.94 L521.66 189.94 L521.99 189.95 L522.32 189.95 L522.65 189.95 L522.98 189.95 L523.31 189.95 L523.64 189.95 L523.98 189.95 L524.31 189.96 L524.64 189.96 L524.97 189.96 L525.3 189.96" fill="none" stroke="#2cee2c" stroke-width="1.9" stroke-linejoin="round" stroke-linecap="round"/>
<path d="M327 189.94 L327.33 189.94 L327.66 189.94 L327.99 189.94 L328.32 189.94 L328.66 189.94 L328.99 189.93 L329.32 189.93 L329.65 189.93 L329.98 189.93 L330.31 189.93 L330.64 189.92 L330.97 189.92 L331.3 189.92 L331.63 189.92 L331.97 189.91 L332.3 189.91 L332.63 189.91 L332.96 189.91 L333.29 189.9 L333.62 189.9 L333.95 189.9 L334.28 189.9 L334.61 189.89 L334.95 189.89 L335.28 189.89 L335.61 189.88 L335.94 189.88 L336.27 189.88 L336.6 189.87 L336.93 189.87 L337.26 189.87 L337.59 189.86 L337.92 189.86 L338.26 189.86 L338.59 189.85 L338.92 189.85 L339.25 189.84 L339.58 189.84 L339.91 189.83 L340.24 189.83 L340.57 189.83 L340.9 189.82 L341.24 189.82 L341.57 189.81 L341.9 189.8 L342.23 189.8 L342.56 189.79 L342.89 189.79 L343.22 189.78 L343.55 189.78 L343.88 189.77 L344.21 189.76 L344.55 189.76 L344.88 189.75 L345.21 189.74 L345.54 189.74 L345.87 189.73 L346.2 189.72 L346.53 189.71 L346.86 189.7 L347.19 189.7 L347.53 189.69 L347.86 189.68 L348.19 189.67 L348.52 189.66 L348.85 189.65 L349.18 189.64 L349.51 189.63 L349.84 189.62 L350.17 189.61 L350.5 189.6 L350.84 189.59 L351.17 189.58 L351.5 189.56 L351.83 189.55 L352.16 189.54 L352.49 189.53 L352.82 189.51 L353.15 189.5 L353.48 189.49 L353.82 189.47 L354.15 189.46 L354.48 189.44 L354.81 189.42 L355.14 189.41 L355.47 189.39 L355.8 189.37 L356.13 189.36 L356.46 189.34 L356.79 189.32 L357.13 189.3 L357.46 189.28 L357.79 189.26 L358.12 189.24 L358.45 189.22 L358.78 189.2 L359.11 189.18 L359.44 189.15 L359.77 189.13 L360.11 189.1 L360.44 189.08 L360.77 189.05 L361.1 189.03 L361.43 189 L361.76 188.97 L362.09 188.94 L362.42 188.91 L362.75 188.88 L363.08 188.85 L363.42 188.82 L363.75 188.78 L364.08 188.75 L364.41 188.72 L364.74 188.68 L365.07 188.64 L365.4 188.6 L365.73 188.57 L366.06 188.53 L366.4 188.48 L366.73 188.44 L367.06 188.4 L367.39 188.35 L367.72 188.31 L368.05 188.26 L368.38 188.21 L368.71 188.16 L369.04 188.11 L369.37 188.05 L369.71 188 L370.04 187.94 L370.37 187.89 L370.7 187.83 L371.03 187.77 L371.36 187.7 L371.69 187.64 L372.02 187.57 L372.35 187.5 L372.69 187.43 L373.02 187.36 L373.35 187.29 L373.68 187.21 L374.01 187.13 L374.34 187.05 L374.67 186.97 L375 186.88 L375.33 186.8 L375.66 186.71 L376 186.62 L376.33 186.52 L376.66 186.42 L376.99 186.32 L377.32 186.22 L377.65 186.11 L377.98 186 L378.31 185.89 L378.64 185.78 L378.98 185.66 L379.31 185.54 L379.64 185.41 L379.97 185.28 L380.3 185.15 L380.63 185.01 L380.96 184.87 L381.29 184.73 L381.62 184.58 L381.95 184.43 L382.29 184.27 L382.62 184.11 L382.95 183.95 L383.28 183.78 L383.61 183.6 L383.94 183.43 L384.27 183.24 L384.6 183.05 L384.93 182.86 L385.27 182.66 L385.6 182.45 L385.93 182.24 L386.26 182.02 L386.59 181.8 L386.92 181.57 L387.25 181.33 L387.58 181.09 L387.91 180.84 L388.24 180.58 L388.58 180.32 L388.91 180.05 L389.24 179.77 L389.57 179.49 L389.9 179.19 L390.23 178.89 L390.56 178.58 L390.89 178.26 L391.22 177.93 L391.56 177.6 L391.89 177.25 L392.22 176.89 L392.55 176.53 L392.88 176.15 L393.21 175.77 L393.54 175.37 L393.87 174.96 L394.2 174.55 L394.53 174.12 L394.87 173.67 L395.2 173.22 L395.53 172.75 L395.86 172.27 L396.19 171.78 L396.52 171.28 L396.85 170.76 L397.18 170.22 L397.51 169.68 L397.85 169.11 L398.18 168.54 L398.51 167.94 L398.84 167.34 L399.17 166.71 L399.5 166.07 L399.83 165.41 L400.16 164.73 L400.49 164.04 L400.82 163.33 L401.16 162.59 L401.49 161.84 L401.82 161.07 L402.15 160.28 L402.48 159.47 L402.81 158.64 L403.14 157.79 L403.47 156.91 L403.8 156.02 L404.14 155.1 L404.47 154.15 L404.8 153.19 L405.13 152.2 L405.46 151.18 L405.79 150.14 L406.12 149.08 L406.45 147.98 L406.78 146.87 L407.11 145.72 L407.45 144.55 L407.78 143.35 L408.11 142.12 L408.44 140.87 L408.77 139.58 L409.1 138.27 L409.43 136.93 L409.76 135.56 L410.09 134.16 L410.43 132.72 L410.76 131.26 L411.09 129.77 L411.42 128.25 L411.75 126.7 L412.08 125.11 L412.41 123.5 L412.74 121.86 L413.07 120.18 L413.4 118.48 L413.74 116.74 L414.07 114.98 L414.4 113.19 L414.73 111.37 L415.06 109.52 L415.39 107.65 L415.72 105.75 L416.05 103.82 L416.38 101.87 L416.72 99.9 L417.05 97.9 L417.38 95.89 L417.71 93.85 L418.04 91.8 L418.37 89.73 L418.7 87.65 L419.03 85.56 L419.36 83.46 L419.69 81.35 L420.03 79.23 L420.36 77.12 L420.69 75 L421.02 72.89 L421.35 70.78 L421.68 68.69 L422.01 66.61 L422.34 64.54 L422.67 62.49 L423.01 60.47 L423.34 58.48 L423.67 56.51 L424 54.59 L424.33 52.7 L424.66 50.85 L424.99 49.06 L425.32 47.31 L425.65 45.62 L425.98 43.99 L426.32 42.42 L426.65 40.92 L426.98 39.49 L427.31 38.14 L427.64 36.87 L427.97 35.67 L428.3 34.57 L428.63 33.55 L428.96 32.63 L429.29 31.8 L429.63 31.07 L429.96 30.43 L430.29 29.9 L430.62 29.47 L430.95 29.15 L431.28 28.93 L431.61 28.82 L431.94 28.81 L432.27 28.91 L432.61 29.13 L432.94 29.45 L433.27 29.88 L433.6 30.42 L433.93 31.07 L434.26 31.81 L434.59 32.66 L434.92 33.61 L435.25 34.65 L435.58 35.79 L435.92 37.01 L436.25 38.32 L436.58 39.72 L436.91 41.19 L437.24 42.73 L437.57 44.34 L437.9 46.02 L438.23 47.76 L438.56 49.56 L438.9 51.41 L439.23 53.31 L439.56 55.25 L439.89 57.23 L440.22 59.24 L440.55 61.29 L440.88 63.36 L441.21 65.46 L441.54 67.58 L441.87 69.71 L442.21 71.85 L442.54 74 L442.87 76.16 L443.2 78.32 L443.53 80.48 L443.86 82.63 L444.19 84.78 L444.52 86.92 L444.85 89.05 L445.19 91.16 L445.52 93.26 L445.85 95.34 L446.18 97.41 L446.51 99.45 L446.84 101.47 L447.17 103.46 L447.5 105.43 L447.83 107.37 L448.16 109.29 L448.5 111.18 L448.83 113.04 L449.16 114.87 L449.49 116.67 L449.82 118.44 L450.15 120.18 L450.48 121.89 L450.81 123.56 L451.14 125.21 L451.48 126.82 L451.81 128.4 L452.14 129.95 L452.47 131.47 L452.8 132.96 L453.13 134.41 L453.46 135.84 L453.79 137.23 L454.12 138.59 L454.45 139.92 L454.79 141.23 L455.12 142.5 L455.45 143.74 L455.78 144.96 L456.11 146.14 L456.44 147.3 L456.77 148.43 L457.1 149.53 L457.43 150.61 L457.77 151.66 L458.1 152.68 L458.43 153.68 L458.76 154.66 L459.09 155.61 L459.42 156.53 L459.75 157.43 L460.08 158.31 L460.41 159.17 L460.74 160 L461.08 160.82 L461.41 161.61 L461.74 162.38 L462.07 163.13 L462.4 163.86 L462.73 164.58 L463.06 165.27 L463.39 165.95 L463.72 166.61 L464.06 167.25 L464.39 167.87 L464.72 168.48 L465.05 169.07 L465.38 169.64 L465.71 170.2 L466.04 170.75 L466.37 171.28 L466.7 171.79 L467.03 172.29 L467.37 172.78 L467.7 173.26 L468.03 173.72 L468.36 174.17 L468.69 174.6 L469.02 175.03 L469.35 175.44 L469.68 175.85 L470.01 176.24 L470.35 176.62 L470.68 176.99 L471.01 177.35 L471.34 177.7 L471.67 178.04 L472 178.37 L472.33 178.69 L472.66 179.01 L472.99 179.31 L473.32 179.61 L473.66 179.9 L473.99 180.18 L474.32 180.45 L474.65 180.72 L474.98 180.97 L475.31 181.22 L475.64 181.47 L475.97 181.71 L476.3 181.94 L476.64 182.16 L476.97 182.38 L477.3 182.59 L477.63 182.8 L477.96 183 L478.29 183.19 L478.62 183.38 L478.95 183.56 L479.28 183.74 L479.61 183.92 L479.95 184.09 L480.28 184.25 L480.61 184.41 L480.94 184.57 L481.27 184.72 L481.6 184.86 L481.93 185.01 L482.26 185.15 L482.59 185.28 L482.93 185.41 L483.26 185.54 L483.59 185.66 L483.92 185.79 L484.25 185.9 L484.58 186.02 L484.91 186.13 L485.24 186.24 L485.57 186.34 L485.9 186.44 L486.24 186.54 L486.57 186.64 L486.9 186.73 L487.23 186.82 L487.56 186.91 L487.89 187 L488.22 187.08 L488.55 187.16 L488.88 187.24 L489.22 187.32 L489.55 187.39 L489.88 187.47 L490.21 187.54 L490.54 187.6 L490.87 187.67 L491.2 187.74 L491.53 187.8 L491.86 187.86 L492.19 187.92 L492.53 187.98 L492.86 188.03 L493.19 188.09 L493.52 188.14 L493.85 188.19 L494.18 188.24 L494.51 188.29 L494.84 188.34 L495.17 188.39 L495.51 188.43 L495.84 188.48 L496.17 188.52 L496.5 188.56 L496.83 188.6 L497.16 188.64 L497.49 188.68 L497.82 188.71 L498.15 188.75 L498.48 188.78 L498.82 188.82 L499.15 188.85 L499.48 188.88 L499.81 188.91 L500.14 188.94 L500.47 188.97 L500.8 189 L501.13 189.03 L501.46 189.06 L501.8 189.08 L502.13 189.11 L502.46 189.13 L502.79 189.16 L503.12 189.18 L503.45 189.2 L503.78 189.23 L504.11 189.25 L504.44 189.27 L504.77 189.29 L505.11 189.31 L505.44 189.33 L505.77 189.35 L506.1 189.37 L506.43 189.38 L506.76 189.4 L507.09 189.42 L507.42 189.43 L507.75 189.45 L508.09 189.46 L508.42 189.48 L508.75 189.49 L509.08 189.51 L509.41 189.52 L509.74 189.53 L510.07 189.55 L510.4 189.56 L510.73 189.57 L511.06 189.58 L511.4 189.6 L511.73 189.61 L512.06 189.62 L512.39 189.63 L512.72 189.64 L513.05 189.65 L513.38 189.66 L513.71 189.67 L514.04 189.68 L514.38 189.69 L514.71 189.7 L515.04 189.7 L515.37 189.71 L515.7 189.72 L516.03 189.73 L516.36 189.74 L516.69 189.74 L517.02 189.75 L517.35 189.76 L517.69 189.76 L518.02 189.77 L518.35 189.78 L518.68 189.78 L519.01 189.79 L519.34 189.8 L519.67 189.8 L520 189.81 L520.33 189.81 L520.67 189.82 L521 189.82 L521.33 189.83 L521.66 189.83 L521.99 189.84 L522.32 189.84 L522.65 189.85 L522.98 189.85 L523.31 189.85 L523.64 189.86 L523.98 189.86 L524.31 189.87 L524.64 189.87 L524.97 189.87 L525.3 189.88" fill="none" stroke="#1c0cf0" stroke-width="1.9" stroke-linejoin="round" stroke-linecap="round"/>
<line x1="440.5" y1="19.5" x2="461.8" y2="19.5" stroke="#1c0cf0" stroke-width="1.7"/>
<text x="465.3" y="23.6" font-size="9" text-anchor="start" font-weight="normal" font-style="normal" fill="#000">L-MAPbI<tspan font-size="7.5" dy="3">3</tspan><tspan dy="-3"> QDs</tspan></text>
<line x1="440.5" y1="33.55" x2="461.8" y2="33.55" stroke="#2cee2c" stroke-width="1.7"/>
<text x="463.8" y="37.65" font-size="9" text-anchor="start" font-weight="normal" font-style="normal" fill="#000">M-MAPbI<tspan font-size="7.5" dy="3">3</tspan><tspan dy="-3"> QDs</tspan></text>
<line x1="440.5" y1="47.6" x2="461.8" y2="47.6" stroke="#fda802" stroke-width="1.7"/>
<text x="463.8" y="51.7" font-size="9" text-anchor="start" font-weight="normal" font-style="normal" fill="#000">S-MAPbI<tspan font-size="7.5" dy="3">3</tspan><tspan dy="-3"> QDs</tspan></text>
<rect x="61.5" y="249.9" width="194.5" height="174.6" fill="none" stroke="#000" stroke-width="1.4"/>
<line x1="61.5" y1="424.5" x2="57.5" y2="424.5" stroke="#000" stroke-width="1.1"/>
<text x="55.3" y="428.5" font-size="11.5" text-anchor="end" font-weight="normal" font-style="normal" fill="#000">0.0</text>
<line x1="61.5" y1="409.95" x2="59.3" y2="409.95" stroke="#000" stroke-width="1.1"/>
<line x1="61.5" y1="395.4" x2="57.5" y2="395.4" stroke="#000" stroke-width="1.1"/>
<text x="55.3" y="399.4" font-size="11.5" text-anchor="end" font-weight="normal" font-style="normal" fill="#000">0.2</text>
<line x1="61.5" y1="380.85" x2="59.3" y2="380.85" stroke="#000" stroke-width="1.1"/>
<line x1="61.5" y1="366.3" x2="57.5" y2="366.3" stroke="#000" stroke-width="1.1"/>
<text x="55.3" y="370.3" font-size="11.5" text-anchor="end" font-weight="normal" font-style="normal" fill="#000">0.4</text>
<line x1="61.5" y1="351.75" x2="59.3" y2="351.75" stroke="#000" stroke-width="1.1"/>
<line x1="61.5" y1="337.2" x2="57.5" y2="337.2" stroke="#000" stroke-width="1.1"/>
<text x="55.3" y="341.2" font-size="11.5" text-anchor="end" font-weight="normal" font-style="normal" fill="#000">0.6</text>
<line x1="61.5" y1="322.65" x2="59.3" y2="322.65" stroke="#000" stroke-width="1.1"/>
<line x1="61.5" y1="308.1" x2="57.5" y2="308.1" stroke="#000" stroke-width="1.1"/>
<text x="55.3" y="312.1" font-size="11.5" text-anchor="end" font-weight="normal" font-style="normal" fill="#000">0.8</text>
<line x1="61.5" y1="293.55" x2="59.3" y2="293.55" stroke="#000" stroke-width="1.1"/>
<line x1="61.5" y1="279" x2="57.5" y2="279" stroke="#000" stroke-width="1.1"/>
<text x="55.3" y="283" font-size="11.5" text-anchor="end" font-weight="normal" font-style="normal" fill="#000">1.0</text>
<line x1="61.5" y1="264.45" x2="59.3" y2="264.45" stroke="#000" stroke-width="1.1"/>
<line x1="61.5" y1="249.9" x2="57.5" y2="249.9" stroke="#000" stroke-width="1.1"/>
<text x="55.3" y="253.9" font-size="11.5" text-anchor="end" font-weight="normal" font-style="normal" fill="#000">1.2</text>
<line x1="61.5" y1="424.5" x2="61.5" y2="428" stroke="#000" stroke-width="1.1"/>
<text x="61.5" y="440.2" font-size="11.5" text-anchor="middle" font-weight="normal" font-style="normal" fill="#000">1.2</text>
<line x1="80.95" y1="424.5" x2="80.95" y2="426.5" stroke="#000" stroke-width="1.1"/>
<line x1="100.4" y1="424.5" x2="100.4" y2="428" stroke="#000" stroke-width="1.1"/>
<text x="100.4" y="440.2" font-size="11.5" text-anchor="middle" font-weight="normal" font-style="normal" fill="#000">1.4</text>
<line x1="119.85" y1="424.5" x2="119.85" y2="426.5" stroke="#000" stroke-width="1.1"/>
<line x1="139.3" y1="424.5" x2="139.3" y2="428" stroke="#000" stroke-width="1.1"/>
<text x="139.3" y="440.2" font-size="11.5" text-anchor="middle" font-weight="normal" font-style="normal" fill="#000">1.6</text>
<line x1="158.75" y1="424.5" x2="158.75" y2="426.5" stroke="#000" stroke-width="1.1"/>
<line x1="178.2" y1="424.5" x2="178.2" y2="428" stroke="#000" stroke-width="1.1"/>
<text x="178.2" y="440.2" font-size="11.5" text-anchor="middle" font-weight="normal" font-style="normal" fill="#000">1.8</text>
<line x1="197.65" y1="424.5" x2="197.65" y2="426.5" stroke="#000" stroke-width="1.1"/>
<line x1="217.1" y1="424.5" x2="217.1" y2="428" stroke="#000" stroke-width="1.1"/>
<text x="217.1" y="440.2" font-size="11.5" text-anchor="middle" font-weight="normal" font-style="normal" fill="#000">2.0</text>
<line x1="236.55" y1="424.5" x2="236.55" y2="426.5" stroke="#000" stroke-width="1.1"/>
<line x1="256" y1="424.5" x2="256" y2="428" stroke="#000" stroke-width="1.1"/>
<text x="256" y="440.2" font-size="11.5" text-anchor="middle" font-weight="normal" font-style="normal" fill="#000">2.2</text>
<text x="158.5" y="456.5" font-size="16" text-anchor="middle" font-weight="normal" font-style="normal" fill="#000"><tspan font-style="italic">hv</tspan> (eV)</text>
<text x="32.4" y="333.1" font-size="15.6" text-anchor="middle" font-weight="normal" font-style="normal" fill="#000" transform="rotate(-90 32.4 333.1)">(<tspan font-style="italic">αhv</tspan>)<tspan dy="-6" font-size="10.5">2</tspan><tspan dy="6"> (a.u.)</tspan></text>
<text x="6" y="252" font-size="21.5" text-anchor="start" font-weight="bold" font-style="normal" fill="#000" stroke="#000" stroke-width="0.5">c</text>
<path d="M69.5 424.3 L139.57 424.3 L142.83 423.42 L144.73 422.55 L146.27 421.67 L147.5 420.79 L148.45 419.92 L149.19 419.04 L149.75 418.17 L150.19 417.29 L150.55 416.41 L150.88 415.54 L151.21 414.66 L151.55 413.78 L151.9 412.91 L152.25 412.03 L152.6 411.15 L152.96 410.28 L153.32 409.4 L153.68 408.53 L154.05 407.65 L154.42 406.77 L154.79 405.9 L155.17 405.02 L155.54 404.14 L155.92 403.27 L156.3 402.39 L156.68 401.51 L157.06 400.64 L157.44 399.76 L157.82 398.88 L158.19 398.01 L158.57 397.13 L158.95 396.26 L159.33 395.38 L159.7 394.5 L160.08 393.63 L160.45 392.75 L160.82 391.87 L161.19 391 L161.56 390.12 L161.92 389.24 L162.29 388.37 L162.65 387.49 L163.01 386.62 L163.37 385.74 L163.72 384.86 L164.08 383.99 L164.43 383.11 L164.79 382.23 L165.14 381.36 L165.49 380.48 L165.84 379.6 L166.18 378.73 L166.53 377.85 L166.87 376.98 L167.21 376.1 L167.55 375.22 L167.89 374.35 L168.23 373.47 L168.56 372.59 L168.89 371.72 L169.23 370.84 L169.56 369.96 L169.89 369.09 L170.21 368.21 L170.54 367.34 L170.86 366.46 L171.19 365.58 L171.51 364.71 L171.83 363.83 L172.15 362.95 L172.46 362.08 L172.78 361.2 L173.09 360.32 L173.4 359.45 L173.71 358.57 L174.02 357.69 L174.33 356.82 L174.64 355.94 L174.94 355.07 L175.24 354.19 L175.55 353.31 L175.85 352.44 L176.14 351.56 L176.44 350.68 L176.74 349.81 L177.03 348.93 L177.32 348.05 L177.61 347.18 L177.9 346.3 L178.19 345.43 L178.48 344.55 L178.76 343.67 L179.05 342.8 L179.33 341.92 L179.61 341.04 L179.89 340.17 L180.17 339.29 L180.45 338.41 L180.72 337.54 L180.99 336.66 L181.27 335.79 L181.54 334.91 L181.81 334.03 L182.07 333.16 L182.34 332.28 L182.61 331.4 L182.87 330.53 L183.13 329.65 L183.39 328.77 L183.65 327.9 L183.91 327.02 L184.17 326.15 L184.42 325.27 L184.68 324.39 L184.93 323.52 L185.18 322.64 L185.43 321.76 L185.68 320.89 L185.92 320.01 L186.17 319.13 L186.41 318.26 L186.66 317.38 L186.9 316.51 L187.14 315.63 L187.38 314.75 L187.61 313.88 L187.85 313 L188.09 312.12 L188.32 311.25 L188.55 310.37 L188.78 309.49 L189.01 308.62 L189.24 307.74 L189.47 306.86 L189.69 305.99 L189.91 305.11 L190.14 304.24 L190.36 303.36 L190.58 302.48 L190.8 301.61 L191.01 300.73 L191.23 299.85 L191.45 298.98 L191.66 298.1 L191.87 297.22 L192.08 296.35 L192.29 295.47 L192.5 294.6 L192.71 293.72 L192.91 292.84 L193.12 291.97 L193.32 291.09 L193.52 290.21 L193.72 289.34 L193.92 288.46 L194.12 287.58 L194.32 286.71 L194.51 285.83 L194.71 284.96 L194.9 284.08 L195.09 283.2 L195.28 282.33 L195.47 281.45 L195.66 280.57 L195.85 279.7 L196.03 278.82 L196.22 277.94 L196.4 277.07 L196.58 276.19 L196.76 275.32 L196.94 274.44 L197.12 273.56 L197.3 272.69 L197.47 271.81 L197.65 270.93 L197.82 270.06 L198 269.18 L198.17 268.3 L198.34 267.43 L198.51 266.55 L198.67 265.67 L198.84 264.8 L199 263.92 L199.17 263.05 L199.33 262.17 L199.49 261.29 L199.65 260.42 L199.81 259.54 L199.97 258.66 L200.13 257.79 L200.28 256.91 L200.44 256.03 L200.59 255.16 L200.75 254.28 L200.9 253.41 L201.05 252.53 L201.2 251.65 L201.34 250.78 L201.49 249.9" fill="none" stroke="#1c0cf0" stroke-width="1.9" stroke-linejoin="round" stroke-linecap="round"/>
<path d="M143.6 424.3 L150.88 424.3 L153.01 423.42 L154.34 422.55 L155.22 421.67 L155.95 420.79 L156.68 419.92 L157.4 419.04 L158.1 418.17 L158.8 417.29 L159.49 416.41 L160.17 415.54 L160.84 414.66 L161.5 413.78 L162.15 412.91 L162.79 412.03 L163.43 411.15 L164.05 410.28 L164.67 409.4 L165.28 408.53 L165.88 407.65 L166.48 406.77 L167.06 405.9 L167.64 405.02 L168.22 404.14 L168.78 403.27 L169.34 402.39 L169.89 401.51 L170.44 400.64 L170.98 399.76 L171.51 398.88 L172.04 398.01 L172.56 397.13 L173.08 396.26 L173.59 395.38 L174.09 394.5 L174.59 393.63 L175.09 392.75 L175.58 391.87 L176.06 391 L176.54 390.12 L177.02 389.24 L177.49 388.37 L177.96 387.49 L178.42 386.62 L178.88 385.74 L179.34 384.86 L179.8 383.99 L180.25 383.11 L180.69 382.23 L181.14 381.36 L181.58 380.48 L182.02 379.6 L182.45 378.73 L182.88 377.85 L183.31 376.98 L183.73 376.1 L184.16 375.22 L184.57 374.35 L184.99 373.47 L185.4 372.59 L185.81 371.72 L186.22 370.84 L186.62 369.96 L187.02 369.09 L187.42 368.21 L187.81 367.34 L188.2 366.46 L188.59 365.58 L188.97 364.71 L189.35 363.83 L189.73 362.95 L190.11 362.08 L190.48 361.2 L190.85 360.32 L191.22 359.45 L191.59 358.57 L191.95 357.69 L192.31 356.82 L192.66 355.94 L193.02 355.07 L193.37 354.19 L193.72 353.31 L194.06 352.44 L194.41 351.56 L194.75 350.68 L195.08 349.81 L195.42 348.93 L195.75 348.05 L196.08 347.18 L196.41 346.3 L196.73 345.43 L197.06 344.55 L197.38 343.67 L197.69 342.8 L198.01 341.92 L198.32 341.04 L198.63 340.17 L198.94 339.29 L199.24 338.41 L199.55 337.54 L199.85 336.66 L200.14 335.79 L200.44 334.91 L200.73 334.03 L201.02 333.16 L201.31 332.28 L201.6 331.4 L201.88 330.53 L202.17 329.65 L202.45 328.77 L202.72 327.9 L203 327.02 L203.27 326.15 L203.55 325.27 L203.81 324.39 L204.08 323.52 L204.35 322.64 L204.61 321.76 L204.87 320.89 L205.13 320.01 L205.39 319.13 L205.64 318.26 L205.9 317.38 L206.15 316.51 L206.4 315.63 L206.64 314.75 L206.89 313.88 L207.13 313 L207.38 312.12 L207.62 311.25 L207.85 310.37 L208.09 309.49 L208.32 308.62 L208.56 307.74 L208.79 306.86 L209.02 305.99 L209.25 305.11 L209.47 304.24 L209.7 303.36 L209.92 302.48 L210.14 301.61 L210.36 300.73 L210.58 299.85 L210.8 298.98 L211.01 298.1 L211.22 297.22 L211.44 296.35 L211.65 295.47 L211.85 294.6 L212.06 293.72 L212.27 292.84 L212.47 291.97 L212.68 291.09 L212.88 290.21 L213.08 289.34 L213.28 288.46 L213.48 287.58 L213.67 286.71 L213.87 285.83 L214.06 284.96 L214.25 284.08 L214.45 283.2 L214.64 282.33 L214.82 281.45 L215.01 280.57 L215.2 279.7 L215.38 278.82 L215.57 277.94 L215.75 277.07 L215.93 276.19 L216.12 275.32 L216.3 274.44 L216.47 273.56 L216.65 272.69 L216.83 271.81 L217.01 270.93 L217.18 270.06 L217.36 269.18 L217.53 268.3 L217.7 267.43 L217.87 266.55 L218.04 265.67 L218.21 264.8 L218.38 263.92 L218.55 263.05 L218.72 262.17 L218.88 261.29 L219.05 260.42 L219.21 259.54 L219.38 258.66 L219.54 257.79 L219.71 256.91 L219.87 256.03 L220.03 255.16 L220.19 254.28 L220.35 253.41 L220.51 252.53 L220.67 251.65 L220.83 250.78 L220.99 249.9" fill="none" stroke="#2cee2c" stroke-width="1.9" stroke-linejoin="round" stroke-linecap="round"/>
<path d="M152.2 424.3 L160.71 424.3 L161.34 423.42 L161.96 422.55 L162.56 421.67 L163.15 420.79 L163.73 419.92 L164.29 419.04 L164.83 418.17 L165.37 417.29 L165.89 416.41 L166.39 415.54 L166.89 414.66 L167.38 413.78 L167.85 412.91 L168.31 412.03 L168.76 411.15 L169.21 410.28 L169.64 409.4 L170.06 408.53 L170.48 407.65 L170.89 406.77 L171.28 405.9 L171.68 405.02 L172.06 404.14 L172.44 403.27 L172.81 402.39 L173.17 401.51 L173.53 400.64 L173.89 399.76 L174.23 398.88 L174.58 398.01 L174.92 397.13 L175.26 396.26 L175.59 395.38 L175.92 394.5 L176.25 393.63 L176.58 392.75 L176.9 391.87 L177.23 391 L177.55 390.12 L177.87 389.24 L178.19 388.37 L178.51 387.49 L178.83 386.62 L179.14 385.74 L179.46 384.86 L179.77 383.99 L180.09 383.11 L180.4 382.23 L180.71 381.36 L181.02 380.48 L181.33 379.6 L181.63 378.73 L181.94 377.85 L182.24 376.98 L182.54 376.1 L182.85 375.22 L183.15 374.35 L183.45 373.47 L183.74 372.59 L184.04 371.72 L184.34 370.84 L184.63 369.96 L184.93 369.09 L185.22 368.21 L185.51 367.34 L185.8 366.46 L186.09 365.58 L186.38 364.71 L186.66 363.83 L186.95 362.95 L187.23 362.08 L187.52 361.2 L187.8 360.32 L188.08 359.45 L188.36 358.57 L188.64 357.69 L188.92 356.82 L189.19 355.94 L189.47 355.07 L189.74 354.19 L190.02 353.31 L190.29 352.44 L190.56 351.56 L190.83 350.68 L191.1 349.81 L191.37 348.93 L191.64 348.05 L191.9 347.18 L192.17 346.3 L192.43 345.43 L192.69 344.55 L192.95 343.67 L193.22 342.8 L193.48 341.92 L193.73 341.04 L193.99 340.17 L194.25 339.29 L194.5 338.41 L194.76 337.54 L195.01 336.66 L195.26 335.79 L195.52 334.91 L195.77 334.03 L196.02 333.16 L196.27 332.28 L196.51 331.4 L196.76 330.53 L197.01 329.65 L197.25 328.77 L197.49 327.9 L197.74 327.02 L197.98 326.15 L198.22 325.27 L198.46 324.39 L198.7 323.52 L198.94 322.64 L199.17 321.76 L199.41 320.89 L199.65 320.01 L199.88 319.13 L200.11 318.26 L200.35 317.38 L200.58 316.51 L200.81 315.63 L201.04 314.75 L201.27 313.88 L201.5 313 L201.72 312.12 L201.95 311.25 L202.18 310.37 L202.4 309.49 L202.62 308.62 L202.85 307.74 L203.07 306.86 L203.29 305.99 L203.51 305.11 L203.73 304.24 L203.95 303.36 L204.17 302.48 L204.38 301.61 L204.6 300.73 L204.81 299.85 L205.03 298.98 L205.24 298.1 L205.45 297.22 L205.67 296.35 L205.88 295.47 L206.09 294.6 L206.3 293.72 L206.51 292.84 L206.72 291.97 L206.92 291.09 L207.13 290.21 L207.33 289.34 L207.54 288.46 L207.74 287.58 L207.95 286.71 L208.15 285.83 L208.35 284.96 L208.55 284.08 L208.75 283.2 L208.95 282.33 L209.15 281.45 L209.35 280.57 L209.55 279.7 L209.74 278.82 L209.94 277.94 L210.14 277.07 L210.33 276.19 L210.52 275.32 L210.72 274.44 L210.91 273.56 L211.1 272.69 L211.29 271.81 L211.48 270.93 L211.67 270.06 L211.86 269.18 L212.05 268.3 L212.24 267.43 L212.42 266.55 L212.61 265.67 L212.8 264.8 L212.98 263.92 L213.17 263.05 L213.35 262.17 L213.53 261.29 L213.72 260.42 L213.9 259.54 L214.08 258.66 L214.26 257.79 L214.44 256.91 L214.62 256.03 L214.8 255.16 L214.98 254.28 L215.15 253.41 L215.33 252.53 L215.51 251.65 L215.68 250.78 L215.86 249.9" fill="none" stroke="#fda802" stroke-width="1.9" stroke-linejoin="round" stroke-linecap="round"/>
<path d="M153.2 424.3 L173.4 364" fill="none" stroke="#1c0cf0" stroke-width="1.7" stroke-dasharray="1.1 1" />
<path d="M161.3 424.3 L178.4 384" fill="none" stroke="#2cee2c" stroke-width="1.7" stroke-dasharray="1.1 1" />
<path d="M167.8 424.3 L181.6 382.5" fill="none" stroke="#fda802" stroke-width="1.7" stroke-dasharray="1.1 1" />
<line x1="78.1" y1="273.1" x2="97.7" y2="273.1" stroke="#1c0cf0" stroke-width="1.7"/>
<text x="102.4" y="277.1" font-size="10" text-anchor="start" font-weight="normal" font-style="normal" fill="#000">L-MAPbI<tspan font-size="7.5" dy="3">3</tspan><tspan dy="-3"> QDs</tspan></text>
<line x1="78.1" y1="287.8" x2="97.7" y2="287.8" stroke="#2cee2c" stroke-width="1.7"/>
<text x="101.2" y="291.8" font-size="10" text-anchor="start" font-weight="normal" font-style="normal" fill="#000">M-MAPbI<tspan font-size="7.5" dy="3">3</tspan><tspan dy="-3"> QDs</tspan></text>
<line x1="78.1" y1="302.5" x2="97.7" y2="302.5" stroke="#fda802" stroke-width="1.7"/>
<text x="101.2" y="306.5" font-size="10" text-anchor="start" font-weight="normal" font-style="normal" fill="#000">S-MAPbI<tspan font-size="7.5" dy="3">3</tspan><tspan dy="-3"> QDs</tspan></text>
<text x="104.5" y="408.6" font-size="10" text-anchor="start" font-weight="normal" font-style="normal" fill="#1c0cf0">E<tspan font-size="7" dy="3">g</tspan><tspan dy="-3">=1.67 eV</tspan></text>
<text x="192.2" y="368.3" font-size="10" text-anchor="start" font-weight="normal" font-style="normal" fill="#2cee2c">E<tspan font-size="7" dy="3">g</tspan><tspan dy="-3">=1.71 eV</tspan></text>
<text x="179.6" y="414.6" font-size="10" text-anchor="start" font-weight="normal" font-style="normal" fill="#fda802">E<tspan font-size="7" dy="3">g</tspan><tspan dy="-3">=1.75 eV</tspan></text>
<rect x="321.5" y="249.5" width="204.3" height="171.8" fill="none" stroke="#000" stroke-width="1.4"/>
<line x1="321.5" y1="421.3" x2="318" y2="421.3" stroke="#000" stroke-width="1.1"/>
<text x="316" y="425.1" font-size="11" text-anchor="end" font-weight="normal" font-style="normal" fill="#000">0</text>
<line x1="321.5" y1="404.12" x2="319.5" y2="404.12" stroke="#000" stroke-width="1.1"/>
<line x1="321.5" y1="386.94" x2="318" y2="386.94" stroke="#000" stroke-width="1.1"/>
<text x="316" y="390.74" font-size="11" text-anchor="end" font-weight="normal" font-style="normal" fill="#000">20</text>
<line x1="321.5" y1="369.76" x2="319.5" y2="369.76" stroke="#000" stroke-width="1.1"/>
<line x1="321.5" y1="352.58" x2="318" y2="352.58" stroke="#000" stroke-width="1.1"/>
<text x="316" y="356.38" font-size="11" text-anchor="end" font-weight="normal" font-style="normal" fill="#000">40</text>
<line x1="321.5" y1="335.4" x2="319.5" y2="335.4" stroke="#000" stroke-width="1.1"/>
<line x1="321.5" y1="318.22" x2="318" y2="318.22" stroke="#000" stroke-width="1.1"/>
<text x="316" y="322.02" font-size="11" text-anchor="end" font-weight="normal" font-style="normal" fill="#000">60</text>
<line x1="321.5" y1="301.04" x2="319.5" y2="301.04" stroke="#000" stroke-width="1.1"/>
<line x1="321.5" y1="283.86" x2="318" y2="283.86" stroke="#000" stroke-width="1.1"/>
<text x="316" y="287.66" font-size="11" text-anchor="end" font-weight="normal" font-style="normal" fill="#000">80</text>
<line x1="321.5" y1="266.68" x2="319.5" y2="266.68" stroke="#000" stroke-width="1.1"/>
<line x1="321.5" y1="249.5" x2="318" y2="249.5" stroke="#000" stroke-width="1.1"/>
<text x="316" y="253.3" font-size="11" text-anchor="end" font-weight="normal" font-style="normal" fill="#000">100</text>
<line x1="329" y1="421.3" x2="329" y2="424.5" stroke="#000" stroke-width="1.1"/>
<text x="329" y="436.4" font-size="10.5" text-anchor="middle" font-weight="normal" font-style="normal" fill="#000">0</text>
<line x1="344.12" y1="421.3" x2="344.12" y2="423.1" stroke="#000" stroke-width="1.1"/>
<line x1="359.23" y1="421.3" x2="359.23" y2="424.5" stroke="#000" stroke-width="1.1"/>
<text x="359.23" y="436.4" font-size="10.5" text-anchor="middle" font-weight="normal" font-style="normal" fill="#000">2</text>
<line x1="374.35" y1="421.3" x2="374.35" y2="423.1" stroke="#000" stroke-width="1.1"/>
<line x1="389.47" y1="421.3" x2="389.47" y2="424.5" stroke="#000" stroke-width="1.1"/>
<text x="389.47" y="436.4" font-size="10.5" text-anchor="middle" font-weight="normal" font-style="normal" fill="#000">4</text>
<line x1="404.58" y1="421.3" x2="404.58" y2="423.1" stroke="#000" stroke-width="1.1"/>
<line x1="419.7" y1="421.3" x2="419.7" y2="424.5" stroke="#000" stroke-width="1.1"/>
<text x="419.7" y="436.4" font-size="10.5" text-anchor="middle" font-weight="normal" font-style="normal" fill="#000">6</text>
<line x1="434.82" y1="421.3" x2="434.82" y2="423.1" stroke="#000" stroke-width="1.1"/>
<line x1="449.93" y1="421.3" x2="449.93" y2="424.5" stroke="#000" stroke-width="1.1"/>
<text x="449.93" y="436.4" font-size="10.5" text-anchor="middle" font-weight="normal" font-style="normal" fill="#000">8</text>
<line x1="465.05" y1="421.3" x2="465.05" y2="423.1" stroke="#000" stroke-width="1.1"/>
<line x1="480.17" y1="421.3" x2="480.17" y2="424.5" stroke="#000" stroke-width="1.1"/>
<text x="480.17" y="436.4" font-size="10.5" text-anchor="middle" font-weight="normal" font-style="normal" fill="#000">10</text>
<line x1="495.28" y1="421.3" x2="495.28" y2="423.1" stroke="#000" stroke-width="1.1"/>
<line x1="510.4" y1="421.3" x2="510.4" y2="424.5" stroke="#000" stroke-width="1.1"/>
<text x="510.4" y="436.4" font-size="10.5" text-anchor="middle" font-weight="normal" font-style="normal" fill="#000">12</text>
<text x="423.5" y="451.3" font-size="14.8" text-anchor="middle" font-weight="normal" font-style="normal" fill="#000">Time (months)</text>
<text x="293.9" y="334.9" font-size="15.2" text-anchor="middle" font-weight="normal" font-style="normal" fill="#000" transform="rotate(-90 293.9 334.9)">PLQY (%)</text>
<text x="283.2" y="255.4" font-size="21" text-anchor="start" font-weight="bold" font-style="normal" fill="#000" stroke="#000" stroke-width="0.5">d</text>
<path d="M329 254.14 L404.58 256.03 L480.17 263.93 L510.4 276.99" fill="none" stroke="#1c0cf0" stroke-width="2.0" stroke-linejoin="round" stroke-linecap="round"/>
<line x1="329" y1="251.56" x2="329" y2="256.72" stroke="#1c0cf0" stroke-width="1.1"/>
<line x1="326.8" y1="251.56" x2="331.2" y2="251.56" stroke="#1c0cf0" stroke-width="1.1"/>
<line x1="326.8" y1="256.72" x2="331.2" y2="256.72" stroke="#1c0cf0" stroke-width="1.1"/>
<rect x="326.9" y="252.04" width="4.2" height="4.2" fill="#1c0cf0"/>
<line x1="404.58" y1="251.73" x2="404.58" y2="260.32" stroke="#1c0cf0" stroke-width="1.1"/>
<line x1="402.38" y1="251.73" x2="406.78" y2="251.73" stroke="#1c0cf0" stroke-width="1.1"/>
<line x1="402.38" y1="260.32" x2="406.78" y2="260.32" stroke="#1c0cf0" stroke-width="1.1"/>
<rect x="402.48" y="253.93" width="4.2" height="4.2" fill="#1c0cf0"/>
<line x1="480.17" y1="261.87" x2="480.17" y2="265.99" stroke="#1c0cf0" stroke-width="1.1"/>
<line x1="477.97" y1="261.87" x2="482.37" y2="261.87" stroke="#1c0cf0" stroke-width="1.1"/>
<line x1="477.97" y1="265.99" x2="482.37" y2="265.99" stroke="#1c0cf0" stroke-width="1.1"/>
<rect x="478.07" y="261.83" width="4.2" height="4.2" fill="#1c0cf0"/>
<line x1="510.4" y1="274.41" x2="510.4" y2="279.56" stroke="#1c0cf0" stroke-width="1.1"/>
<line x1="508.2" y1="274.41" x2="512.6" y2="274.41" stroke="#1c0cf0" stroke-width="1.1"/>
<line x1="508.2" y1="279.56" x2="512.6" y2="279.56" stroke="#1c0cf0" stroke-width="1.1"/>
<rect x="508.3" y="274.89" width="4.2" height="4.2" fill="#1c0cf0"/>
<path d="M329 257.92 L404.58 262.21 L480.17 271.49 L510.4 281.97" fill="none" stroke="#2cee2c" stroke-width="2.0" stroke-linejoin="round" stroke-linecap="round"/>
<line x1="329" y1="252.76" x2="329" y2="263.07" stroke="#2cee2c" stroke-width="1.1"/>
<line x1="326.8" y1="252.76" x2="331.2" y2="252.76" stroke="#2cee2c" stroke-width="1.1"/>
<line x1="326.8" y1="263.07" x2="331.2" y2="263.07" stroke="#2cee2c" stroke-width="1.1"/>
<circle cx="329" cy="257.92" r="2.1" fill="#2cee2c"/>
<line x1="404.58" y1="257.4" x2="404.58" y2="267.02" stroke="#2cee2c" stroke-width="1.1"/>
<line x1="402.38" y1="257.4" x2="406.78" y2="257.4" stroke="#2cee2c" stroke-width="1.1"/>
<line x1="402.38" y1="267.02" x2="406.78" y2="267.02" stroke="#2cee2c" stroke-width="1.1"/>
<circle cx="404.58" cy="262.21" r="2.1" fill="#2cee2c"/>
<line x1="480.17" y1="266.34" x2="480.17" y2="276.64" stroke="#2cee2c" stroke-width="1.1"/>
<line x1="477.97" y1="266.34" x2="482.37" y2="266.34" stroke="#2cee2c" stroke-width="1.1"/>
<line x1="477.97" y1="276.64" x2="482.37" y2="276.64" stroke="#2cee2c" stroke-width="1.1"/>
<circle cx="480.17" cy="271.49" r="2.1" fill="#2cee2c"/>
<line x1="510.4" y1="278.53" x2="510.4" y2="285.41" stroke="#2cee2c" stroke-width="1.1"/>
<line x1="508.2" y1="278.53" x2="512.6" y2="278.53" stroke="#2cee2c" stroke-width="1.1"/>
<line x1="508.2" y1="285.41" x2="512.6" y2="285.41" stroke="#2cee2c" stroke-width="1.1"/>
<circle cx="510.4" cy="281.97" r="2.1" fill="#2cee2c"/>
<path d="M329 255.68 L404.58 257.57 L480.17 267.54 L510.4 274.24" fill="none" stroke="#fda802" stroke-width="2.0" stroke-linejoin="round" stroke-linecap="round"/>
<line x1="329" y1="250.87" x2="329" y2="260.5" stroke="#fda802" stroke-width="1.1"/>
<line x1="326.8" y1="250.87" x2="331.2" y2="250.87" stroke="#fda802" stroke-width="1.1"/>
<line x1="326.8" y1="260.5" x2="331.2" y2="260.5" stroke="#fda802" stroke-width="1.1"/>
<path d="M329 253.28 L331 257.28 L327 257.28 Z" fill="#fda802"/>
<line x1="404.58" y1="254.48" x2="404.58" y2="260.67" stroke="#fda802" stroke-width="1.1"/>
<line x1="402.38" y1="254.48" x2="406.78" y2="254.48" stroke="#fda802" stroke-width="1.1"/>
<line x1="402.38" y1="260.67" x2="406.78" y2="260.67" stroke="#fda802" stroke-width="1.1"/>
<path d="M404.58 255.17 L406.58 259.17 L402.58 259.17 Z" fill="#fda802"/>
<line x1="480.17" y1="264.96" x2="480.17" y2="270.12" stroke="#fda802" stroke-width="1.1"/>
<line x1="477.97" y1="264.96" x2="482.37" y2="264.96" stroke="#fda802" stroke-width="1.1"/>
<line x1="477.97" y1="270.12" x2="482.37" y2="270.12" stroke="#fda802" stroke-width="1.1"/>
<path d="M480.17 265.14 L482.17 269.14 L478.17 269.14 Z" fill="#fda802"/>
<line x1="510.4" y1="270.46" x2="510.4" y2="278.02" stroke="#fda802" stroke-width="1.1"/>
<line x1="508.2" y1="270.46" x2="512.6" y2="270.46" stroke="#fda802" stroke-width="1.1"/>
<line x1="508.2" y1="278.02" x2="512.6" y2="278.02" stroke="#fda802" stroke-width="1.1"/>
<path d="M510.4 271.84 L512.4 275.84 L508.4 275.84 Z" fill="#fda802"/>
<line x1="344.1" y1="362.8" x2="363.8" y2="362.8" stroke="#1c0cf0" stroke-width="2.0"/>
<rect x="351.9" y="360.7" width="4.2" height="4.2" fill="#1c0cf0"/>
<text x="368.1" y="366.7" font-size="10.8" text-anchor="start" font-weight="normal" font-style="normal" fill="#000">L-MAPbI<tspan font-size="7.5" dy="3">3</tspan><tspan dy="-3"> QDs</tspan></text>
<line x1="344.1" y1="378.65" x2="363.8" y2="378.65" stroke="#2cee2c" stroke-width="2.0"/>
<circle cx="354" cy="378.65" r="2.1" fill="#2cee2c"/>
<text x="366.3" y="382.55" font-size="10.8" text-anchor="start" font-weight="normal" font-style="normal" fill="#000">M-MAPbI<tspan font-size="7.5" dy="3">3</tspan><tspan dy="-3"> QDs</tspan></text>
<line x1="344.1" y1="394.5" x2="363.8" y2="394.5" stroke="#fda802" stroke-width="2.0"/>
<path d="M354 392.1 L356 396.1 L352 396.1 Z" fill="#fda802"/>
<text x="366.3" y="398.4" font-size="10.8" text-anchor="start" font-weight="normal" font-style="normal" fill="#000">S-MAPbI<tspan font-size="7.5" dy="3">3</tspan><tspan dy="-3"> QDs</tspan></text>
</svg></body></html>
